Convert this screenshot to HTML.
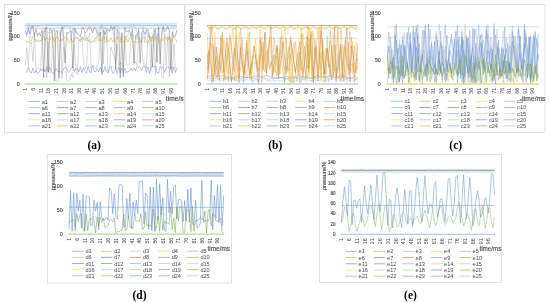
<!DOCTYPE html>
<html><head><meta charset="utf-8"><title>Figure</title>
<style>html,body{margin:0;padding:0;background:#fff;} svg{display:block;} text.t{stroke:#4a4a4a;stroke-width:0.15px;}</style>
</head><body>
<svg width="550" height="302" viewBox="0 0 550 302" font-family="&quot;Liberation Sans&quot;, sans-serif">
<rect width="550" height="302" fill="#fff"/>
<g >
<rect x="4.5" y="4.5" width="180" height="128" fill="#fff" stroke="#D9D9D9" stroke-width="0.8"/>
<line x1="24.5" x2="177.7" y1="84" y2="84" stroke="#8CC168" stroke-width="0.75"/>
<polyline points="25.27,72.25 26.8,71.97 28.33,67.26 29.86,72.11 31.39,72.96 32.93,68.12 34.46,73.01 35.99,70.68 37.52,73.48 39.05,72.42 40.59,69 42.12,70.74 43.65,68.31 45.18,71.96 46.71,66.49 48.25,72.5 49.78,67.04 51.31,71.4 52.84,73.57 54.37,72.7 55.91,68.35 57.44,70.77 58.97,71.77 60.5,71.73 62.03,73.12 63.57,68.41 65.1,67.62 66.63,67.84 68.16,72.46 69.69,71.37 71.23,68.04 72.76,66.75 74.29,71.3 75.82,68.86 77.35,68.5 78.89,71.91 80.42,66.83 81.95,72.51 83.48,67.77 85.01,71.37 86.55,72.99 88.08,66.36 89.61,71.75 91.14,72.5 92.67,66.05 94.21,71.34 95.74,71.55 97.27,68.82 98.8,72.32 100.33,67.22 101.87,71.93 103.4,72.02 104.93,66.42 106.46,71.02 107.99,73.03 109.53,68.47 111.06,66.19 112.59,73.44 114.12,72.39 115.65,68.73 117.19,73.47 118.72,66.91 120.25,73.05 121.78,68.15 123.31,72.74 124.85,68.35 126.38,73.14 127.91,71.41 129.44,71.18 130.97,68.23 132.51,70.74 134.04,67.93 135.57,70.96 137.1,66.34 138.63,67.05 140.17,67.27 141.7,70.66 143.23,66.29 144.76,66.13 146.29,72.48 147.83,66.83 149.36,73.58 150.89,67.39 152.42,66.32 153.95,66.91 155.49,66.27 157.02,72.63 158.55,73.2 160.08,66.65 161.61,67.31 163.15,67.88 164.68,72.4 166.21,67.11 167.74,66.38 169.27,67.87 170.81,67.28 172.34,73.1 173.87,66.77 175.4,72.38 176.93,68.35" fill="none" stroke="#5a78c0" stroke-width="0.55" stroke-opacity="0.8" stroke-linejoin="round"/>
<polyline points="25.27,65.69 26.8,47.58 28.33,66.35 29.86,44.02 31.39,42.21 32.93,61.54 34.46,32.83 35.99,71.92 37.52,67.26 39.05,68.56 40.59,70.63 42.12,36.65 43.65,32.72 45.18,27.65 46.71,77.82 48.25,41.64 49.78,72.31 51.31,72.37 52.84,28.93 54.37,29.47 55.91,80.92 57.44,81.63 58.97,80.84 60.5,30 62.03,78.57 63.57,47.28 65.1,50.24 66.63,80.58 68.16,81.18 69.69,79.43 71.23,74.27 72.76,77.65 74.29,43.81 75.82,70.99 77.35,74.61 78.89,40.05 80.42,39.82 81.95,36.93 83.48,63.79 85.01,68.44 86.55,65.94 88.08,37.62 89.61,33 91.14,68.82 92.67,65.47 94.21,65.88 95.74,69.21 97.27,65.62 98.8,63.17 100.33,27.56 101.87,25.31 103.4,63.82 104.93,27.33 106.46,29.04 107.99,71.7 109.53,68.68 111.06,47.2 112.59,52.11 114.12,55.79 115.65,63.88 117.19,44.49 118.72,65.33 120.25,63.2 121.78,63.28 123.31,67.94 124.85,35.97 126.38,65.21 127.91,64.96 129.44,64.28 130.97,39.25 132.51,34.74 134.04,62.46 135.57,62.19 137.1,65.56 138.63,36.5 140.17,41.82 141.7,41.64 143.23,63.58 144.76,63.69 146.29,68.58 147.83,38.51 149.36,33.74 150.89,70.97 152.42,38.07 153.95,33.55 155.49,74.49 157.02,33.92 158.55,38.09 160.08,43.47 161.61,76.51 163.15,78.52 164.68,33.87 166.21,65.17 167.74,36.34 169.27,77.18 170.81,38 172.34,72.32 173.87,44.24 175.4,67.41 176.93,67.08" fill="none" stroke="#A5A5A5" stroke-width="0.55" stroke-opacity="0.75" stroke-linejoin="round"/>
<polyline points="25.27,24.95 26.8,24.94 28.33,24.77 29.86,24.76 31.39,24.95 32.93,25 34.46,25.07 35.99,25.12 37.52,25.04 39.05,25.12 40.59,24.84 42.12,24.87 43.65,24.85 45.18,24.79 46.71,24.7 48.25,24.63 49.78,24.76 51.31,24.85 52.84,24.88 54.37,25.04 55.91,25 57.44,24.86 58.97,24.66 60.5,24.62 62.03,24.65 63.57,24.68 65.1,24.92 66.63,24.95 68.16,24.96 69.69,24.85 71.23,25 72.76,24.98 74.29,24.92 75.82,24.77 77.35,24.67 78.89,24.7 80.42,24.88 81.95,24.76 83.48,24.64 85.01,24.7 86.55,24.81 88.08,24.82 89.61,24.96 91.14,24.83 92.67,24.65 94.21,24.71 95.74,24.68 97.27,24.61 98.8,24.82 100.33,24.65 101.87,24.68 103.4,24.85 104.93,25 106.46,25.03 107.99,24.92 109.53,24.81 111.06,24.89 112.59,24.7 114.12,24.81 115.65,24.83 117.19,24.97 118.72,24.74 120.25,24.91 121.78,24.73 123.31,24.75 124.85,24.76 126.38,24.77 127.91,24.88 129.44,24.71 130.97,24.57 132.51,24.56 134.04,24.63 135.57,24.85 137.1,24.72 138.63,24.85 140.17,24.69 141.7,24.85 143.23,24.81 144.76,24.7 146.29,24.87 147.83,24.84 149.36,25 150.89,25.11 152.42,25.12 153.95,24.82 155.49,24.66 157.02,24.67 158.55,24.81 160.08,24.75 161.61,24.7 163.15,24.8 164.68,24.78 166.21,24.68 167.74,24.93 169.27,25 170.81,24.95 172.34,25.04 173.87,25 175.4,24.91 176.93,25" fill="none" stroke="#5B9BD5" stroke-width="0.55" stroke-opacity="0.7" stroke-linejoin="round"/>
<polyline points="25.27,30.55 26.8,34.75 28.33,28.35 29.86,33.83 31.39,27.11 32.93,26.27 34.46,35.85 35.99,29.28 37.52,36.25 39.05,32.66 40.59,35.93 42.12,29.74 43.65,77.74 45.18,29.77 46.71,26.6 48.25,71.83 49.78,28.93 51.31,29.73 52.84,36.55 54.37,80.91 55.91,31.22 57.44,31.03 58.97,78.06 60.5,35.07 62.03,26.36 63.57,36.27 65.1,63.19 66.63,32.21 68.16,33.71 69.69,31.62 71.23,30.67 72.76,68.05 74.29,27.98 75.82,32.3 77.35,32.84 78.89,35.5 80.42,37.16 81.95,28.45 83.48,27.8 85.01,32.85 86.55,31.74 88.08,28.42 89.61,27.24 91.14,28.71 92.67,32.84 94.21,27.58 95.74,28.83 97.27,32.84 98.8,36.55 100.33,32.14 101.87,74.74 103.4,30.25 104.93,34.76 106.46,29.95 107.99,30.02 109.53,31.42 111.06,26.25 112.59,29.56 114.12,26.47 115.65,69.71 117.19,29.15 118.72,32.88 120.25,77.85 121.78,33.17 123.31,76.77 124.85,27.3 126.38,31.7 127.91,31.04 129.44,30.26 130.97,36.49 132.51,28.92 134.04,63.6 135.57,35.56 137.1,35.46 138.63,30.56 140.17,63.31 141.7,32.67 143.23,30.71 144.76,34.16 146.29,31.12 147.83,29.39 149.36,37.17 150.89,36.86 152.42,67.01 153.95,33.01 155.49,29.04 157.02,62.47 158.55,26.87 160.08,64.08 161.61,32.57 163.15,26.55 164.68,31.53 166.21,29.32 167.74,26.49 169.27,30.64 170.81,69.53 172.34,32.28 173.87,36.75 175.4,35.95 176.93,29.93" fill="none" stroke="#636363" stroke-width="0.55" stroke-opacity="0.8" stroke-linejoin="round"/>
<polyline points="25.27,28.08 26.8,28.16 28.33,28.04 29.86,27.98 31.39,27.99 32.93,28.15 34.46,28.1 35.99,27.99 37.52,28.07 39.05,28.22 40.59,28.27 42.12,28.27 43.65,28.16 45.18,28.24 46.71,28.3 48.25,28.31 49.78,28.2 51.31,28.1 52.84,28.15 54.37,28.1 55.91,28.01 57.44,28.04 58.97,28.16 60.5,28.21 62.03,28.06 63.57,28.05 65.1,28.15 66.63,28.11 68.16,28.24 69.69,28.07 71.23,28.12 72.76,28.12 74.29,28.12 75.82,28.26 77.35,28.19 78.89,28.23 80.42,28.27 81.95,28.13 83.48,28.26 85.01,28.27 86.55,28.15 88.08,28.22 89.61,28.25 91.14,28.2 92.67,28.27 94.21,28.11 95.74,27.98 97.27,28.18 98.8,28.18 100.33,28.09 101.87,28.15 103.4,28.03 104.93,28.07 106.46,28.19 107.99,28.16 109.53,28.11 111.06,28.17 112.59,28.11 114.12,28.05 115.65,28.08 117.19,28.11 118.72,28.02 120.25,28.02 121.78,28.07 123.31,27.97 124.85,28.13 126.38,28.06 127.91,28.19 129.44,28.14 130.97,28.22 132.51,28.21 134.04,28.11 135.57,28.04 137.1,28 138.63,28.13 140.17,28.14 141.7,28.22 143.23,28.17 144.76,28.16 146.29,28.29 147.83,28.2 149.36,28.12 150.89,28.11 152.42,28.02 153.95,28.16 155.49,28.25 157.02,28.35 158.55,28.27 160.08,28.24 161.61,28.22 163.15,28.26 164.68,28.13 166.21,28.26 167.74,28.1 169.27,28.1 170.81,28.1 172.34,28.04 173.87,28.16 175.4,28.25 176.93,28.26" fill="none" stroke="#255E91" stroke-width="0.55" stroke-opacity="0.6" stroke-linejoin="round"/>
<polyline points="25.27,23.42 26.8,23.47 28.33,23.53 29.86,23.4 31.39,23.35 32.93,23.4 34.46,23.4 35.99,23.4 37.52,23.45 39.05,23.34 40.59,23.34 42.12,23.42 43.65,23.51 45.18,23.48 46.71,23.48 48.25,23.39 49.78,23.36 51.31,23.36 52.84,23.45 54.37,23.5 55.91,23.5 57.44,23.51 58.97,23.4 60.5,23.4 62.03,23.38 63.57,23.3 65.1,23.39 66.63,23.39 68.16,23.47 69.69,23.39 71.23,23.5 72.76,23.4 74.29,23.34 75.82,23.31 77.35,23.43 78.89,23.47 80.42,23.4 81.95,23.48 83.48,23.46 85.01,23.45 86.55,23.35 88.08,23.36 89.61,23.31 91.14,23.39 92.67,23.34 94.21,23.39 95.74,23.32 97.27,23.43 98.8,23.36 100.33,23.44 101.87,23.42 103.4,23.41 104.93,23.48 106.46,23.39 107.99,23.43 109.53,23.46 111.06,23.52 112.59,23.52 114.12,23.48 115.65,23.41 117.19,23.44 118.72,23.39 120.25,23.48 121.78,23.47 123.31,23.46 124.85,23.35 126.38,23.31 127.91,23.32 129.44,23.45 130.97,23.46 132.51,23.4 134.04,23.46 135.57,23.43 137.1,23.43 138.63,23.52 140.17,23.38 141.7,23.34 143.23,23.42 144.76,23.4 146.29,23.44 147.83,23.45 149.36,23.43 150.89,23.46 152.42,23.47 153.95,23.47 155.49,23.42 157.02,23.46 158.55,23.5 160.08,23.42 161.61,23.45 163.15,23.35 164.68,23.36 166.21,23.34 167.74,23.4 169.27,23.34 170.81,23.45 172.34,23.5 173.87,23.54 175.4,23.46 176.93,23.4" fill="none" stroke="#7CAFDD" stroke-width="0.55" stroke-opacity="0.7" stroke-linejoin="round"/>
<polyline points="25.27,25.77 26.8,25.84 28.33,25.8 29.86,25.84 31.39,25.78 32.93,25.91 34.46,25.81 35.99,25.9 37.52,25.72 39.05,25.72 40.59,25.75 42.12,25.79 43.65,25.75 45.18,25.71 46.71,25.66 48.25,25.64 49.78,25.7 51.31,25.59 52.84,25.57 54.37,25.55 55.91,25.67 57.44,25.73 58.97,25.73 60.5,25.64 62.03,25.69 63.57,25.72 65.1,25.76 66.63,25.65 68.16,25.76 69.69,25.89 71.23,25.78 72.76,25.67 74.29,25.65 75.82,25.67 77.35,25.64 78.89,25.75 80.42,25.74 81.95,25.88 83.48,25.94 85.01,25.89 86.55,25.85 88.08,25.85 89.61,25.95 91.14,25.83 92.67,25.8 94.21,25.87 95.74,25.89 97.27,25.87 98.8,25.91 100.33,25.98 101.87,25.78 103.4,25.65 104.93,25.65 106.46,25.6 107.99,25.69 109.53,25.64 111.06,25.78 112.59,25.71 114.12,25.72 115.65,25.63 117.19,25.8 118.72,25.71 120.25,25.85 121.78,25.81 123.31,25.67 124.85,25.86 126.38,25.9 127.91,25.91 129.44,25.91 130.97,25.98 132.51,25.79 134.04,25.7 135.57,25.76 137.1,25.81 138.63,25.77 140.17,25.9 141.7,25.99 143.23,25.79 144.76,25.84 146.29,25.82 147.83,25.68 149.36,25.58 150.89,25.67 152.42,25.8 153.95,25.85 155.49,25.7 157.02,25.62 158.55,25.77 160.08,25.68 161.61,25.76 163.15,25.78 164.68,25.87 166.21,25.73 167.74,25.61 169.27,25.76 170.81,25.73 172.34,25.84 173.87,25.71 175.4,25.86 176.93,25.94" fill="none" stroke="#335AA1" stroke-width="0.55" stroke-opacity="0.7" stroke-linejoin="round"/>
<polyline points="25.27,40.86 26.8,41.28 28.33,41.58 29.86,42.69 31.39,40.8 32.93,36.48 34.46,37.19 35.99,40.89 37.52,41.67 39.05,41.85 40.59,40.67 42.12,36.25 43.65,36.51 45.18,40.33 46.71,37.72 48.25,38.57 49.78,40.36 51.31,37.05 52.84,37.17 54.37,41.44 55.91,37.93 57.44,36.62 58.97,40.49 60.5,41.82 62.03,40.73 63.57,38.16 65.1,37.87 66.63,36.22 68.16,41.62 69.69,42.61 71.23,37.87 72.76,42.49 74.29,38.62 75.82,37.56 77.35,38.05 78.89,38.64 80.42,41.92 81.95,38.04 83.48,37 85.01,40.55 86.55,36.92 88.08,40.48 89.61,41.68 91.14,42.66 92.67,41.33 94.21,40.98 95.74,37.78 97.27,36.47 98.8,41.13 100.33,37.88 101.87,41.2 103.4,37.35 104.93,37.41 106.46,37.35 107.99,42.18 109.53,40.92 111.06,37.48 112.59,41.67 114.12,41.9 115.65,40.34 117.19,36.76 118.72,40.39 120.25,42.55 121.78,37.16 123.31,42.15 124.85,40.82 126.38,36.82 127.91,42.2 129.44,37.95 130.97,37.06 132.51,41.59 134.04,42.05 135.57,41.26 137.1,41.94 138.63,42.31 140.17,42.52 141.7,41.87 143.23,36.96 144.76,37.73 146.29,40.56 147.83,42.8 149.36,38.4 150.89,41.3 152.42,36.27 153.95,40.99 155.49,37.13 157.02,38.37 158.55,41.39 160.08,42.58 161.61,38.56 163.15,40.75 164.68,36.94 166.21,38.25 167.74,40.91 169.27,36.84 170.81,41.62 172.34,41.44 173.87,36.49 175.4,37.94 176.93,42.71" fill="none" stroke="#CC9A00" stroke-width="0.55" stroke-opacity="0.8" stroke-linejoin="round"/>
<polyline points="25.27,29.94 26.8,37.36 28.33,25.48 29.86,41.07 31.39,26.64 32.93,26.13 34.46,39.34 35.99,39.85 37.52,40.66 39.05,40.2 40.59,40.83 42.12,40.39 43.65,30.64 45.18,31.28 46.71,31.64 48.25,32.4 49.78,32.83 51.31,32.41 52.84,30.53 54.37,30.99 55.91,30.22 57.44,30.51 58.97,30.31 60.5,39.43 62.03,40.21 63.57,26.6 65.1,26.44 66.63,26.51 68.16,25.9 69.69,25.4 71.23,40.04 72.76,27.9 74.29,41.64 75.82,28.62 77.35,38.94 78.89,38.62 80.42,39.14 81.95,39.9 83.48,40.15 85.01,32.62 86.55,40.99 88.08,40.24 89.61,40.65 91.14,41.27 92.67,41.51 94.21,41.12 95.74,41.97 97.27,29.36 98.8,34.09 100.33,25.93 101.87,26.72 103.4,27.18 104.93,42.23 106.46,43.06 107.99,29.01 109.53,29.66 111.06,30.09 112.59,29.79 114.12,41.63 115.65,26.44 117.19,26.64 118.72,27.13 120.25,40.07 121.78,32.42 123.31,36.9 124.85,36.35 126.38,36.71 127.91,35.96 129.44,26.65 130.97,25.84 132.51,26.31 134.04,27.04 135.57,27.24 137.1,39.64 138.63,28.36 140.17,42.14 141.7,42.19 143.23,26.87 144.76,42.87 146.29,29.03 147.83,37.43 149.36,37.33 150.89,38.18 152.42,38.42 153.95,29.19 155.49,38.4 157.02,38.45 158.55,30.53 160.08,40.05 161.61,39.93 163.15,26.84 164.68,38.69 166.21,37.88 167.74,37.74 169.27,37.26 170.81,37.05 172.34,37.2 173.87,25.4 175.4,25.61 176.93,26.44" fill="none" stroke="#8FAADC" stroke-width="0.55" stroke-opacity="0.7" stroke-linejoin="round"/>
<text x="19.6" y="83.5" text-anchor="end" dominant-baseline="central" font-size="5.3" fill="#4a4a4a" class="t">0</text>
<text x="19.6" y="59.83" text-anchor="end" dominant-baseline="central" font-size="5.3" fill="#4a4a4a" class="t">50</text>
<text x="19.6" y="36.17" text-anchor="end" dominant-baseline="central" font-size="5.3" fill="#4a4a4a" class="t">100</text>
<text x="19.6" y="12.5" text-anchor="end" dominant-baseline="central" font-size="5.3" fill="#4a4a4a" class="t">150</text>
<text transform="translate(9.95,26.8) rotate(-90)" text-anchor="middle" dominant-baseline="central" font-size="5.7" fill="#4a4a4a" class="t">pressure/N</text>
<text transform="translate(25.27,87.8) rotate(-90)" text-anchor="end" dominant-baseline="central" font-size="5.3" fill="#4a4a4a">1</text>
<text transform="translate(32.93,87.8) rotate(-90)" text-anchor="end" dominant-baseline="central" font-size="5.3" fill="#4a4a4a">6</text>
<text transform="translate(40.59,87.8) rotate(-90)" text-anchor="end" dominant-baseline="central" font-size="5.3" fill="#4a4a4a">11</text>
<text transform="translate(48.25,87.8) rotate(-90)" text-anchor="end" dominant-baseline="central" font-size="5.3" fill="#4a4a4a">16</text>
<text transform="translate(55.91,87.8) rotate(-90)" text-anchor="end" dominant-baseline="central" font-size="5.3" fill="#4a4a4a">21</text>
<text transform="translate(63.57,87.8) rotate(-90)" text-anchor="end" dominant-baseline="central" font-size="5.3" fill="#4a4a4a">26</text>
<text transform="translate(71.23,87.8) rotate(-90)" text-anchor="end" dominant-baseline="central" font-size="5.3" fill="#4a4a4a">31</text>
<text transform="translate(78.89,87.8) rotate(-90)" text-anchor="end" dominant-baseline="central" font-size="5.3" fill="#4a4a4a">36</text>
<text transform="translate(86.55,87.8) rotate(-90)" text-anchor="end" dominant-baseline="central" font-size="5.3" fill="#4a4a4a">41</text>
<text transform="translate(94.21,87.8) rotate(-90)" text-anchor="end" dominant-baseline="central" font-size="5.3" fill="#4a4a4a">46</text>
<text transform="translate(101.87,87.8) rotate(-90)" text-anchor="end" dominant-baseline="central" font-size="5.3" fill="#4a4a4a">51</text>
<text transform="translate(109.53,87.8) rotate(-90)" text-anchor="end" dominant-baseline="central" font-size="5.3" fill="#4a4a4a">56</text>
<text transform="translate(117.19,87.8) rotate(-90)" text-anchor="end" dominant-baseline="central" font-size="5.3" fill="#4a4a4a">61</text>
<text transform="translate(124.85,87.8) rotate(-90)" text-anchor="end" dominant-baseline="central" font-size="5.3" fill="#4a4a4a">66</text>
<text transform="translate(132.51,87.8) rotate(-90)" text-anchor="end" dominant-baseline="central" font-size="5.3" fill="#4a4a4a">71</text>
<text transform="translate(140.17,87.8) rotate(-90)" text-anchor="end" dominant-baseline="central" font-size="5.3" fill="#4a4a4a">76</text>
<text transform="translate(147.83,87.8) rotate(-90)" text-anchor="end" dominant-baseline="central" font-size="5.3" fill="#4a4a4a">81</text>
<text transform="translate(155.49,87.8) rotate(-90)" text-anchor="end" dominant-baseline="central" font-size="5.3" fill="#4a4a4a">86</text>
<text transform="translate(163.15,87.8) rotate(-90)" text-anchor="end" dominant-baseline="central" font-size="5.3" fill="#4a4a4a">91</text>
<text transform="translate(170.81,87.8) rotate(-90)" text-anchor="end" dominant-baseline="central" font-size="5.3" fill="#4a4a4a">96</text>
<text x="165.8" y="98.3" dominant-baseline="central" font-size="6.7" fill="#4a4a4a" class="t">time/s</text>
<line x1="28.5" x2="40" y1="101.5" y2="101.5" stroke="#4472C4" stroke-width="0.8" stroke-opacity="0.6"/>
<text x="41.7" y="101.5" dominant-baseline="central" font-size="5.6" fill="#4a4a4a">a1</text>
<line x1="56.9" x2="68.4" y1="101.5" y2="101.5" stroke="#ED7D31" stroke-width="0.8" stroke-opacity="0.6"/>
<text x="70.1" y="101.5" dominant-baseline="central" font-size="5.6" fill="#4a4a4a">a2</text>
<line x1="85.3" x2="96.8" y1="101.5" y2="101.5" stroke="#A5A5A5" stroke-width="0.8" stroke-opacity="0.6"/>
<text x="98.5" y="101.5" dominant-baseline="central" font-size="5.6" fill="#4a4a4a">a3</text>
<line x1="113.7" x2="125.2" y1="101.5" y2="101.5" stroke="#FFC000" stroke-width="0.8" stroke-opacity="0.6"/>
<text x="126.9" y="101.5" dominant-baseline="central" font-size="5.6" fill="#4a4a4a">a4</text>
<line x1="142.1" x2="153.6" y1="101.5" y2="101.5" stroke="#5B9BD5" stroke-width="0.8" stroke-opacity="0.6"/>
<text x="155.3" y="101.5" dominant-baseline="central" font-size="5.6" fill="#4a4a4a">a5</text>
<line x1="28.5" x2="40" y1="107.6" y2="107.6" stroke="#70AD47" stroke-width="0.8" stroke-opacity="0.6"/>
<text x="41.7" y="107.6" dominant-baseline="central" font-size="5.6" fill="#4a4a4a">a6</text>
<line x1="56.9" x2="68.4" y1="107.6" y2="107.6" stroke="#264478" stroke-width="0.8" stroke-opacity="0.6"/>
<text x="70.1" y="107.6" dominant-baseline="central" font-size="5.6" fill="#4a4a4a">a7</text>
<line x1="85.3" x2="96.8" y1="107.6" y2="107.6" stroke="#9E480E" stroke-width="0.8" stroke-opacity="0.6"/>
<text x="98.5" y="107.6" dominant-baseline="central" font-size="5.6" fill="#4a4a4a">a8</text>
<line x1="113.7" x2="125.2" y1="107.6" y2="107.6" stroke="#636363" stroke-width="0.8" stroke-opacity="0.6"/>
<text x="126.9" y="107.6" dominant-baseline="central" font-size="5.6" fill="#4a4a4a">a9</text>
<line x1="142.1" x2="153.6" y1="107.6" y2="107.6" stroke="#997300" stroke-width="0.8" stroke-opacity="0.6"/>
<text x="155.3" y="107.6" dominant-baseline="central" font-size="5.6" fill="#4a4a4a">a10</text>
<line x1="28.5" x2="40" y1="113.7" y2="113.7" stroke="#255E91" stroke-width="0.8" stroke-opacity="0.6"/>
<text x="41.7" y="113.7" dominant-baseline="central" font-size="5.6" fill="#4a4a4a">a11</text>
<line x1="56.9" x2="68.4" y1="113.7" y2="113.7" stroke="#43682B" stroke-width="0.8" stroke-opacity="0.6"/>
<text x="70.1" y="113.7" dominant-baseline="central" font-size="5.6" fill="#4a4a4a">a12</text>
<line x1="85.3" x2="96.8" y1="113.7" y2="113.7" stroke="#698ED0" stroke-width="0.8" stroke-opacity="0.6"/>
<text x="98.5" y="113.7" dominant-baseline="central" font-size="5.6" fill="#4a4a4a">a13</text>
<line x1="113.7" x2="125.2" y1="113.7" y2="113.7" stroke="#F1975A" stroke-width="0.8" stroke-opacity="0.6"/>
<text x="126.9" y="113.7" dominant-baseline="central" font-size="5.6" fill="#4a4a4a">a14</text>
<line x1="142.1" x2="153.6" y1="113.7" y2="113.7" stroke="#B7B7B7" stroke-width="0.8" stroke-opacity="0.6"/>
<text x="155.3" y="113.7" dominant-baseline="central" font-size="5.6" fill="#4a4a4a">a15</text>
<line x1="28.5" x2="40" y1="119.8" y2="119.8" stroke="#FFCD33" stroke-width="0.8" stroke-opacity="0.6"/>
<text x="41.7" y="119.8" dominant-baseline="central" font-size="5.6" fill="#4a4a4a">a16</text>
<line x1="56.9" x2="68.4" y1="119.8" y2="119.8" stroke="#7CAFDD" stroke-width="0.8" stroke-opacity="0.6"/>
<text x="70.1" y="119.8" dominant-baseline="central" font-size="5.6" fill="#4a4a4a">a17</text>
<line x1="85.3" x2="96.8" y1="119.8" y2="119.8" stroke="#8CC168" stroke-width="0.8" stroke-opacity="0.6"/>
<text x="98.5" y="119.8" dominant-baseline="central" font-size="5.6" fill="#4a4a4a">a18</text>
<line x1="113.7" x2="125.2" y1="119.8" y2="119.8" stroke="#335AA1" stroke-width="0.8" stroke-opacity="0.6"/>
<text x="126.9" y="119.8" dominant-baseline="central" font-size="5.6" fill="#4a4a4a">a19</text>
<line x1="142.1" x2="153.6" y1="119.8" y2="119.8" stroke="#D26012" stroke-width="0.8" stroke-opacity="0.6"/>
<text x="155.3" y="119.8" dominant-baseline="central" font-size="5.6" fill="#4a4a4a">a20</text>
<line x1="28.5" x2="40" y1="125.9" y2="125.9" stroke="#848484" stroke-width="0.8" stroke-opacity="0.6"/>
<text x="41.7" y="125.9" dominant-baseline="central" font-size="5.6" fill="#4a4a4a">a21</text>
<line x1="56.9" x2="68.4" y1="125.9" y2="125.9" stroke="#CC9A00" stroke-width="0.8" stroke-opacity="0.6"/>
<text x="70.1" y="125.9" dominant-baseline="central" font-size="5.6" fill="#4a4a4a">a22</text>
<line x1="85.3" x2="96.8" y1="125.9" y2="125.9" stroke="#3C7DC4" stroke-width="0.8" stroke-opacity="0.6"/>
<text x="98.5" y="125.9" dominant-baseline="central" font-size="5.6" fill="#4a4a4a">a23</text>
<line x1="113.7" x2="125.2" y1="125.9" y2="125.9" stroke="#5A8A39" stroke-width="0.8" stroke-opacity="0.6"/>
<text x="126.9" y="125.9" dominant-baseline="central" font-size="5.6" fill="#4a4a4a">a24</text>
<line x1="142.1" x2="153.6" y1="125.9" y2="125.9" stroke="#8FAADC" stroke-width="0.8" stroke-opacity="0.6"/>
<text x="155.3" y="125.9" dominant-baseline="central" font-size="5.6" fill="#4a4a4a">a25</text>
<text x="94.2" y="145" text-anchor="middle" dominant-baseline="central" font-family="&quot;Liberation Serif&quot;, serif" font-weight="bold" font-size="11.5" fill="#000">(a)</text>
<rect x="185" y="4.5" width="180.5" height="128" fill="#fff" stroke="#D9D9D9" stroke-width="0.8"/>
<line x1="206.4" x2="358.3" y1="84" y2="84" stroke="#8FAADC" stroke-width="0.8"/>
<polyline points="207.16,76.67 208.68,76.3 210.2,75.98 211.72,75.51 213.24,75.61 214.75,75.33 216.27,76.85 217.79,76.93 219.31,76.08 220.83,76.13 222.35,75.68 223.87,76.9 225.39,76.96 226.91,77.41 228.43,77.13 229.94,76.9 231.46,77.82 232.98,77.99 234.5,77.97 236.02,76.75 237.54,76.31 239.06,77.19 240.58,76.51 242.1,77.35 243.62,76.95 245.13,77.64 246.65,78.28 248.17,77.03 249.69,77.53 251.21,77.81 252.73,76.54 254.25,75.98 255.77,76.74 257.29,75.93 258.81,76.25 260.32,76.17 261.84,77.02 263.36,76.14 264.88,76.08 266.4,75.53 267.92,75.33 269.44,76.34 270.96,76.83 272.48,77.49 274,77.92 275.51,78.34 277.03,78.14 278.55,77.45 280.07,78.17 281.59,77.32 283.11,77.46 284.63,77.6 286.15,76.72 287.67,76.83 289.19,77.2 290.7,77.12 292.22,76.64 293.74,77.58 295.26,76.41 296.78,77.51 298.3,76.79 299.82,76.18 301.34,77.38 302.86,76.64 304.38,77 305.89,76.81 307.41,77.78 308.93,78.28 310.45,78.33 311.97,76.9 313.49,77.47 315.01,76.76 316.53,76 318.05,75.52 319.57,76.37 321.08,76.86 322.6,76.83 324.12,76.33 325.64,77.3 327.16,76.67 328.68,76.2 330.2,75.8 331.72,77.12 333.24,76.19 334.76,77.25 336.27,77.41 337.79,77 339.31,76.17 340.83,76.76 342.35,76.01 343.87,76.28 345.39,76.88 346.91,77.24 348.43,77.71 349.95,78.19 351.46,78.34 352.98,77.4 354.5,76.26 356.02,77.16 357.54,77.91" fill="none" stroke="#4472C4" stroke-width="0.55" stroke-opacity="0.7" stroke-linejoin="round"/>
<polyline points="207.16,25.63 208.68,25.62 210.2,25.62 211.72,25.68 213.24,25.66 214.75,25.62 216.27,25.56 217.79,25.47 219.31,25.53 220.83,25.53 222.35,25.49 223.87,25.43 225.39,25.39 226.91,25.36 228.43,25.47 229.94,25.56 231.46,25.47 232.98,25.58 234.5,25.58 236.02,25.52 237.54,25.52 239.06,25.55 240.58,25.47 242.1,25.54 243.62,25.53 245.13,25.47 246.65,25.57 248.17,25.59 249.69,25.57 251.21,25.55 252.73,25.6 254.25,25.59 255.77,25.65 257.29,25.69 258.81,25.66 260.32,25.68 261.84,25.54 263.36,25.58 264.88,25.61 266.4,25.53 267.92,25.49 269.44,25.56 270.96,25.49 272.48,25.49 274,25.53 275.51,25.51 277.03,25.57 278.55,25.61 280.07,25.51 281.59,25.53 283.11,25.46 284.63,25.56 286.15,25.62 287.67,25.67 289.19,25.58 290.7,25.55 292.22,25.64 293.74,25.69 295.26,25.57 296.78,25.56 298.3,25.48 299.82,25.59 301.34,25.56 302.86,25.62 304.38,25.55 305.89,25.53 307.41,25.51 308.93,25.58 310.45,25.48 311.97,25.58 313.49,25.65 315.01,25.57 316.53,25.64 318.05,25.68 319.57,25.63 321.08,25.57 322.6,25.48 324.12,25.47 325.64,25.58 327.16,25.54 328.68,25.47 330.2,25.57 331.72,25.51 333.24,25.57 334.76,25.6 336.27,25.67 337.79,25.57 339.31,25.56 340.83,25.48 342.35,25.51 343.87,25.59 345.39,25.62 346.91,25.64 348.43,25.51 349.95,25.58 351.46,25.64 352.98,25.63 354.5,25.68 356.02,25.64 357.54,25.58" fill="none" stroke="#ED7D31" stroke-width="0.9" stroke-opacity="0.95" stroke-linejoin="round"/>
<polyline points="207.16,62.96 208.68,52.89 210.2,42.83 211.72,60.99 213.24,79.15 214.75,32.46 216.27,54.88 217.79,77.3 219.31,62.73 220.83,48.17 222.35,33.6 223.87,82.09 225.39,62.8 226.91,43.52 228.43,74.1 229.94,59.01 231.46,43.93 232.98,28.84 234.5,55.04 236.02,81.24 237.54,56.31 239.06,31.37 240.58,46.05 242.1,60.73 243.62,75.41 245.13,61.27 246.65,47.13 248.17,32.99 249.69,53.81 251.21,74.63 252.73,62.54 254.25,50.45 255.77,38.36 257.29,71.7 258.81,50.15 260.32,28.59 261.84,72.02 263.36,42.34 264.88,58.16 266.4,73.97 267.92,61.28 269.44,48.59 270.96,35.91 272.48,54.32 274,72.73 275.51,59.39 277.03,46.06 278.55,60.01 280.07,73.96 281.59,58.27 283.11,42.57 284.63,26.88 286.15,45.18 287.67,63.48 289.19,81.78 290.7,36.85 292.22,83.01 293.74,43.18 295.26,52.98 296.78,62.77 298.3,72.57 299.82,50.08 301.34,27.59 302.86,73.57 304.38,57.81 305.89,42.05 307.41,26.29 308.93,76.97 310.45,29.9 311.97,75.13 313.49,32.9 315.01,45.15 316.53,57.4 318.05,69.65 319.57,28.15 321.08,81.36 322.6,39.79 324.12,83.03 325.64,48.35 327.16,57.05 328.68,65.76 330.2,74.47 331.72,47.69 333.24,75.76 334.76,61.24 336.27,46.72 337.79,32.2 339.31,57.13 340.83,82.06 342.35,70.45 343.87,58.85 345.39,47.24 346.91,61.29 348.43,75.33 349.95,63.95 351.46,52.57 352.98,41.19 354.5,78.6 356.02,62.38 357.54,46.16" fill="none" stroke="#FFC000" stroke-width="0.55" stroke-opacity="0.7" stroke-linejoin="round"/>
<polyline points="207.16,77.87 208.68,78.09 210.2,78.41 211.72,78.84 213.24,78.6 214.75,78.12 216.27,78.36 217.79,78.55 219.31,79.18 220.83,78.34 222.35,79.09 223.87,78.89 225.39,78.27 226.91,78.91 228.43,78.44 229.94,77.85 231.46,77.95 232.98,77.78 234.5,78.65 236.02,78.71 237.54,79.14 239.06,78.42 240.58,78.77 242.1,78.75 243.62,77.96 245.13,77.7 246.65,77.37 248.17,77.91 249.69,78.18 251.21,78.01 252.73,78.26 254.25,78.67 255.77,78.76 257.29,79.18 258.81,79.11 260.32,78.19 261.84,77.69 263.36,77.85 264.88,78.14 266.4,78.53 267.92,79.13 269.44,79.22 270.96,78.56 272.48,78.03 274,78.44 275.51,78.08 277.03,77.88 278.55,77.87 280.07,77.91 281.59,77.8 283.11,78.3 284.63,78.11 286.15,78.6 287.67,78.6 289.19,78.2 290.7,78.07 292.22,78.56 293.74,77.93 295.26,77.97 296.78,78.09 298.3,78.97 299.82,78.74 301.34,79.02 302.86,78.59 304.38,78.63 305.89,78.15 307.41,78.1 308.93,77.86 310.45,78.36 311.97,78.23 313.49,78.02 315.01,77.77 316.53,78.3 318.05,77.91 319.57,77.65 321.08,77.74 322.6,77.39 324.12,77.21 325.64,77.72 327.16,78.01 328.68,78.71 330.2,78.17 331.72,77.7 333.24,78.08 334.76,78 336.27,77.91 337.79,77.84 339.31,78.59 340.83,78.18 342.35,78.22 343.87,78.12 345.39,78.41 346.91,78.29 348.43,78.01 349.95,78.03 351.46,77.93 352.98,78.85 354.5,79.22 356.02,79.04 357.54,78.63" fill="none" stroke="#5B9BD5" stroke-width="0.55" stroke-opacity="0.7" stroke-linejoin="round"/>
<polyline points="207.16,26.49 208.68,27.6 210.2,28.29 211.72,28.29 213.24,27.6 214.75,26.49 216.27,27.6 217.79,28.29 219.31,28.29 220.83,27.6 222.35,26.49 223.87,27.6 225.39,28.29 226.91,28.29 228.43,27.6 229.94,26.49 231.46,27.6 232.98,28.29 234.5,28.29 236.02,27.6 237.54,26.49 239.06,27.6 240.58,28.29 242.1,28.29 243.62,27.6 245.13,26.49 246.65,27.6 248.17,28.29 249.69,28.29 251.21,27.6 252.73,26.49 254.25,27.6 255.77,28.29 257.29,28.29 258.81,27.6 260.32,26.49 261.84,27.6 263.36,28.29 264.88,28.29 266.4,27.6 267.92,26.49 269.44,27.6 270.96,28.29 272.48,28.29 274,27.6 275.51,26.49 277.03,27.6 278.55,28.29 280.07,28.29 281.59,27.6 283.11,26.49 284.63,27.6 286.15,28.29 287.67,28.29 289.19,27.6 290.7,26.49 292.22,27.6 293.74,28.29 295.26,28.29 296.78,27.6 298.3,26.49 299.82,27.6 301.34,28.29 302.86,28.29 304.38,27.6 305.89,26.49 307.41,27.6 308.93,28.29 310.45,28.29 311.97,27.6 313.49,26.49 315.01,27.6 316.53,28.29 318.05,28.29 319.57,27.6 321.08,26.49 322.6,27.6 324.12,28.29 325.64,28.29 327.16,27.6 328.68,26.49 330.2,27.6 331.72,28.29 333.24,28.29 334.76,27.6 336.27,26.49 337.79,27.6 339.31,28.29 340.83,28.29 342.35,27.6 343.87,26.49 345.39,27.6 346.91,28.29 348.43,28.29 349.95,27.6 351.46,26.49 352.98,27.6 354.5,28.29 356.02,28.29 357.54,27.6" fill="none" stroke="#70AD47" stroke-width="0.6" stroke-opacity="0.9" stroke-linejoin="round"/>
<polyline points="207.16,32.99 208.68,68.91 210.2,56.28 211.72,43.66 213.24,54.95 214.75,66.24 216.27,77.53 217.79,66.56 219.31,55.6 220.83,72.85 222.35,56.07 223.87,39.28 225.39,53.37 226.91,67.46 228.43,81.56 229.94,36.98 231.46,48.52 232.98,60.06 234.5,71.59 236.02,43.46 237.54,56.81 239.06,70.16 240.58,54.9 242.1,39.64 243.62,82.88 245.13,67.29 246.65,51.7 248.17,62.09 249.69,72.48 251.21,66.53 252.73,60.58 254.25,54.63 255.77,60.08 257.29,65.53 258.81,70.99 260.32,54.81 261.84,83.14 263.36,57.63 264.88,32.13 266.4,44.54 267.92,56.94 269.44,69.35 270.96,64.61 272.48,59.87 274,55.13 275.51,65.91 277.03,76.69 278.55,63.29 280.07,49.89 281.59,61.19 283.11,72.49 284.63,83.79 286.15,38.01 287.67,71.61 289.19,63.74 290.7,55.86 292.22,47.98 293.74,59.02 295.26,70.05 296.78,81.08 298.3,66.3 299.82,51.51 301.34,70.46 302.86,58.29 304.38,46.13 305.89,57.27 307.41,68.41 308.93,38.67 310.45,51.27 311.97,63.87 313.49,76.48 315.01,60.66 316.53,44.83 318.05,29.01 319.57,52.47 321.08,75.93 322.6,38.67 324.12,60.26 325.64,81.84 327.16,36.13 328.68,67.33 330.2,29.79 331.72,52.79 333.24,75.79 334.76,44.45 336.27,80.57 337.79,69.38 339.31,58.18 340.83,46.99 342.35,77.92 343.87,45.19 345.39,53.5 346.91,61.81 348.43,70.13 349.95,31.74 351.46,52.6 352.98,73.47 354.5,45.68 356.02,57.76 357.54,69.83" fill="none" stroke="#997300" stroke-width="0.55" stroke-opacity="0.45" stroke-linejoin="round"/>
<polyline points="207.16,52.82 208.68,73.37 210.2,25.31 211.72,83.2 213.24,45.88 214.75,56.2 216.27,66.53 217.79,76.86 219.31,62.26 220.83,47.66 222.35,58.04 223.87,68.42 225.39,78.81 226.91,63.88 228.43,48.95 229.94,34.02 231.46,49.67 232.98,65.33 234.5,80.98 236.02,27.12 237.54,52.97 239.06,78.82 240.58,28.24 242.1,43.43 243.62,58.62 245.13,73.81 246.65,39.65 248.17,57.76 249.69,75.87 251.21,66 252.73,56.13 254.25,46.26 255.77,56.31 257.29,66.36 258.81,76.42 260.32,58.99 261.84,41.56 263.36,56.73 264.88,71.89 266.4,60.87 267.92,49.84 269.44,38.81 270.96,56.66 272.48,74.5 274,37.44 275.51,50.02 277.03,62.6 278.55,75.19 280.07,37.21 281.59,48.03 283.11,58.86 284.63,69.68 286.15,61.9 287.67,54.13 289.19,46.35 290.7,83.99 292.22,69.59 293.74,55.18 295.26,40.78 296.78,58.4 298.3,76.02 299.82,61.88 301.34,47.74 302.86,33.6 304.38,56.02 305.89,78.44 307.41,51.91 308.93,25.39 310.45,43.49 311.97,61.59 313.49,79.69 315.01,39.51 316.53,57.35 318.05,75.19 319.57,53.07 321.08,30.96 322.6,53.81 324.12,76.66 325.64,62.35 327.16,48.03 328.68,62.38 330.2,76.73 331.72,45.11 333.24,57.47 334.76,69.83 336.27,82.2 337.79,25.76 339.31,79.66 340.83,28.93 342.35,44.92 343.87,60.91 345.39,76.9 346.91,59.46 348.43,42.02 349.95,72.43 351.46,36.9 352.98,55.11 354.5,73.33 356.02,62.74 357.54,52.15" fill="none" stroke="#F1975A" stroke-width="0.55" stroke-opacity="0.75" stroke-linejoin="round"/>
<polyline points="207.16,73.82 208.68,49.93 210.2,60.72 211.72,71.52 213.24,82.31 214.75,43.07 216.27,70.72 217.79,51.87 219.31,59.26 220.83,66.64 222.35,74.03 223.87,61.88 225.39,49.72 226.91,58.18 228.43,66.63 229.94,75.09 231.46,66.46 232.98,57.82 234.5,49.19 236.02,55.77 237.54,62.34 239.06,68.91 240.58,44.02 242.1,59.63 243.62,75.24 245.13,66.95 246.65,58.66 248.17,50.38 249.69,61.48 251.21,72.57 252.73,83.67 254.25,69.57 255.77,55.47 257.29,82.73 258.81,67.47 260.32,52.21 261.84,36.96 263.36,49.48 264.88,62 266.4,74.52 267.92,48.73 269.44,59 270.96,69.26 272.48,79.52 274,54.57 275.51,60.28 277.03,65.99 278.55,71.7 280.07,51.25 281.59,30.81 283.11,43.66 284.63,56.5 286.15,69.35 287.67,58.25 289.19,47.16 290.7,36.06 292.22,48.74 293.74,61.43 295.26,74.11 296.78,67.88 298.3,61.64 299.82,55.41 301.34,82.5 302.86,73.14 304.38,63.78 305.89,54.42 307.41,77.08 308.93,58.69 310.45,40.31 311.97,53.9 313.49,67.5 315.01,81.09 316.53,44.97 318.05,53.03 319.57,61.08 321.08,69.14 322.6,60.43 324.12,51.73 325.64,61.89 327.16,72.06 328.68,82.22 330.2,65.88 331.72,49.53 333.24,33.18 334.76,52.75 336.27,72.32 337.79,54.09 339.31,67.31 340.83,80.53 342.35,65.75 343.87,50.96 345.39,36.18 346.91,82.73 348.43,71.22 349.95,59.72 351.46,71.48 352.98,61.26 354.5,51.03 356.02,40.81 357.54,52.12" fill="none" stroke="#B7B7B7" stroke-width="0.55" stroke-opacity="0.6" stroke-linejoin="round"/>
<polyline points="207.16,28.79 208.68,28.84 210.2,28.87 211.72,28.86 213.24,28.74 214.75,28.84 216.27,28.91 217.79,28.86 219.31,28.73 220.83,28.87 222.35,29 223.87,29.05 225.39,28.95 226.91,28.89 228.43,28.96 229.94,29.01 231.46,28.92 232.98,28.85 234.5,28.8 236.02,28.76 237.54,28.92 239.06,28.9 240.58,28.79 242.1,28.69 243.62,28.81 245.13,28.73 246.65,28.74 248.17,28.66 249.69,28.82 251.21,28.78 252.73,28.71 254.25,28.78 255.77,28.92 257.29,28.98 258.81,29.03 260.32,29.08 261.84,29.09 263.36,28.96 264.88,29.03 266.4,28.89 267.92,28.81 269.44,28.74 270.96,28.7 272.48,28.7 274,28.64 275.51,28.6 277.03,28.67 278.55,28.61 280.07,28.82 281.59,28.95 283.11,29.04 284.63,29.05 286.15,29.01 287.67,28.96 289.19,28.87 290.7,28.79 292.22,28.94 293.74,28.93 295.26,28.89 296.78,28.91 298.3,29 299.82,28.91 301.34,28.93 302.86,28.85 304.38,28.85 305.89,28.72 307.41,28.65 308.93,28.85 310.45,28.78 311.97,28.75 313.49,28.85 315.01,28.96 316.53,28.93 318.05,28.94 319.57,28.84 321.08,28.73 322.6,28.81 324.12,28.89 325.64,28.88 327.16,28.81 328.68,28.75 330.2,28.77 331.72,28.86 333.24,28.91 334.76,28.79 336.27,28.81 337.79,28.96 339.31,28.94 340.83,28.98 342.35,28.88 343.87,28.99 345.39,29 346.91,29.06 348.43,28.98 349.95,28.8 351.46,28.81 352.98,28.86 354.5,28.74 356.02,28.9 357.54,28.92" fill="none" stroke="#FFCD33" stroke-width="0.55" stroke-opacity="0.7" stroke-linejoin="round"/>
<polyline points="207.16,80 208.68,80.55 210.2,80.93 211.72,80.65 213.24,80.21 214.75,80.29 216.27,80.15 217.79,79.59 219.31,80.34 220.83,80.62 222.35,80.47 223.87,80.31 225.39,79.71 226.91,79.83 228.43,79.75 229.94,80.05 231.46,79.71 232.98,79.44 234.5,80.04 236.02,80.67 237.54,80.83 239.06,80.78 240.58,80 242.1,80.42 243.62,80.15 245.13,79.98 246.65,79.42 248.17,80.28 249.69,79.87 251.21,80.24 252.73,80.79 254.25,80.37 255.77,79.82 257.29,79.86 258.81,80.64 260.32,79.8 261.84,80.13 263.36,79.97 264.88,79.75 266.4,80.27 267.92,80.38 269.44,80.56 270.96,80.99 272.48,81.3 274,80.56 275.51,80.55 277.03,79.89 278.55,80.64 280.07,80.75 281.59,80.99 283.11,80.05 284.63,79.7 286.15,79.34 287.67,79.68 289.19,80.46 290.7,80.48 292.22,80.76 293.74,81.21 295.26,80.72 296.78,80.82 298.3,81.13 299.82,80.75 301.34,79.92 302.86,79.4 304.38,79.78 305.89,80.51 307.41,80.01 308.93,80.64 310.45,80.42 311.97,80.93 313.49,79.95 315.01,79.99 316.53,80.17 318.05,80.51 319.57,80.32 321.08,79.61 322.6,79.95 324.12,80.47 325.64,80.35 327.16,79.7 328.68,80.07 330.2,79.94 331.72,79.45 333.24,80.01 334.76,79.65 336.27,79.83 337.79,80.5 339.31,81.02 340.83,80.07 342.35,80.18 343.87,80.27 345.39,79.66 346.91,79.77 348.43,79.95 349.95,80.36 351.46,79.96 352.98,80.4 354.5,80.37 356.02,79.94 357.54,79.9" fill="none" stroke="#7CAFDD" stroke-width="0.55" stroke-opacity="0.7" stroke-linejoin="round"/>
<polyline points="207.16,38.26 208.68,38.38 210.2,38.31 211.72,38.34 213.24,38.43 214.75,38.43 216.27,38.4 217.79,38.39 219.31,38.36 220.83,38.43 222.35,38.44 223.87,38.3 225.39,38.32 226.91,38.33 228.43,38.4 229.94,38.41 231.46,38.29 232.98,38.27 234.5,38.29 236.02,38.39 237.54,38.38 239.06,38.31 240.58,38.33 242.1,38.31 243.62,38.24 245.13,38.24 246.65,38.25 248.17,38.37 249.69,38.44 251.21,38.34 252.73,38.35 254.25,38.27 255.77,38.23 257.29,38.19 258.81,38.27 260.32,38.19 261.84,38.2 263.36,38.17 264.88,38.3 266.4,38.26 267.92,38.3 269.44,38.22 270.96,38.17 272.48,38.28 274,38.31 275.51,38.36 277.03,38.35 278.55,38.38 280.07,38.33 281.59,38.4 283.11,38.43 284.63,38.4 286.15,38.45 287.67,38.42 289.19,38.31 290.7,38.24 292.22,38.33 293.74,38.42 295.26,38.32 296.78,38.23 298.3,38.25 299.82,38.35 301.34,38.39 302.86,38.28 304.38,38.22 305.89,38.35 307.41,38.4 308.93,38.38 310.45,38.4 311.97,38.32 313.49,38.35 315.01,38.29 316.53,38.37 318.05,38.35 319.57,38.25 321.08,38.24 322.6,38.35 324.12,38.41 325.64,38.35 327.16,38.36 328.68,38.37 330.2,38.36 331.72,38.33 333.24,38.24 334.76,38.32 336.27,38.31 337.79,38.36 339.31,38.34 340.83,38.29 342.35,38.37 343.87,38.36 345.39,38.3 346.91,38.4 348.43,38.32 349.95,38.34 351.46,38.33 352.98,38.31 354.5,38.26 356.02,38.37 357.54,38.35" fill="none" stroke="#8CC168" stroke-width="0.55" stroke-opacity="0.7" stroke-linejoin="round"/>
<polyline points="207.16,79.71 208.68,61.87 210.2,44.04 211.72,26.21 213.24,50.51 214.75,74.82 216.27,47 217.79,63.62 219.31,80.24 220.83,36.26 222.35,54.16 223.87,72.05 225.39,54.91 226.91,37.77 228.43,52.3 229.94,66.82 231.46,81.35 232.98,64.7 234.5,48.06 236.02,59.62 237.54,71.18 239.06,82.74 240.58,47.65 242.1,62.08 243.62,76.51 245.13,59.68 246.65,42.85 248.17,59.87 249.69,76.89 251.21,66.58 252.73,56.27 254.25,45.95 255.77,58.49 257.29,71.03 258.81,83.56 260.32,39.4 261.84,54.71 263.36,70.03 264.88,32.38 266.4,72.91 267.92,57.1 269.44,41.29 270.96,25.48 272.48,76.73 274,66.22 275.51,55.71 277.03,45.19 278.55,78.44 280.07,66.17 281.59,53.91 283.11,41.64 284.63,57.6 286.15,73.57 287.67,62.23 289.19,50.89 290.7,39.55 292.22,50.27 293.74,60.99 295.26,71.71 296.78,61.64 298.3,51.57 299.82,41.5 301.34,59.54 302.86,77.59 304.38,63.81 305.89,50.03 307.41,36.25 308.93,69.31 310.45,50.15 311.97,30.98 313.49,83.06 315.01,47.72 316.53,64.41 318.05,81.11 319.57,54.28 321.08,27.45 322.6,50.84 324.12,74.22 325.64,61.35 327.16,48.49 328.68,58.84 330.2,69.2 331.72,79.55 333.24,53.12 334.76,26.69 336.27,77.11 337.79,66.06 339.31,55.01 340.83,43.97 342.35,62.81 343.87,81.65 345.39,54.79 346.91,27.93 348.43,54.84 349.95,81.75 351.46,45.89 352.98,54.89 354.5,63.9 356.02,72.9 357.54,57.92" fill="none" stroke="#D26012" stroke-width="0.55" stroke-opacity="0.65" stroke-linejoin="round"/>
<polyline points="207.16,69.97 208.68,51.19 210.2,61.31 211.72,71.43 213.24,81.54 214.75,69.05 216.27,56.56 217.79,61.02 219.31,65.49 220.83,69.95 222.35,32.17 223.87,79.81 225.39,69.02 226.91,58.23 228.43,47.43 229.94,64.9 231.46,82.37 232.98,66.63 234.5,50.89 236.02,35.15 237.54,55.78 239.06,76.41 240.58,69.04 242.1,61.66 243.62,67.14 245.13,72.62 246.65,78.1 248.17,55.13 249.69,32.17 251.21,80.6 252.73,61.98 254.25,62.79 255.77,63.6 257.29,64.41 258.81,58.34 260.32,52.27 261.84,46.2 263.36,63.69 264.88,57.61 266.4,51.54 267.92,59.66 269.44,67.77 270.96,62.19 272.48,65.65 274,69.12 275.51,72.58 277.03,47.78 278.55,69.08 280.07,52.35 281.59,35.62 283.11,58.85 284.63,82.09 286.15,66.42 287.67,68.5 289.19,70.58 290.7,53.9 292.22,68.45 293.74,83 295.26,72.71 296.78,62.42 298.3,52.13 299.82,82.93 301.34,33.75 302.86,49.26 304.38,64.76 305.89,80.26 307.41,45.03 308.93,72.93 310.45,34.6 311.97,82.19 313.49,70.32 315.01,58.45 316.53,46.57 318.05,79.53 319.57,65.92 321.08,52.3 322.6,59.49 324.12,66.68 325.64,73.87 327.16,62.71 328.68,51.55 330.2,40.38 331.72,50.58 333.24,60.78 334.76,70.98 336.27,69.46 337.79,67.93 339.31,69.66 340.83,48.17 342.35,77.51 343.87,58.73 345.39,39.96 346.91,53.44 348.43,66.93 349.95,65.8 351.46,64.67 352.98,63.54 354.5,82.29 356.02,62.63 357.54,42.97" fill="none" stroke="#CC9A00" stroke-width="0.55" stroke-opacity="0.6" stroke-linejoin="round"/>
<text x="200.6" y="83.5" text-anchor="end" dominant-baseline="central" font-size="5.3" fill="#4a4a4a" class="t">0</text>
<text x="200.6" y="59.83" text-anchor="end" dominant-baseline="central" font-size="5.3" fill="#4a4a4a" class="t">50</text>
<text x="200.6" y="36.17" text-anchor="end" dominant-baseline="central" font-size="5.3" fill="#4a4a4a" class="t">100</text>
<text x="200.6" y="12.5" text-anchor="end" dominant-baseline="central" font-size="5.3" fill="#4a4a4a" class="t">150</text>
<text transform="translate(190.95,26.8) rotate(-90)" text-anchor="middle" dominant-baseline="central" font-size="5.7" fill="#4a4a4a" class="t">pressure/N</text>
<text transform="translate(207.16,87.8) rotate(-90)" text-anchor="end" dominant-baseline="central" font-size="5.3" fill="#4a4a4a">1</text>
<text transform="translate(214.75,87.8) rotate(-90)" text-anchor="end" dominant-baseline="central" font-size="5.3" fill="#4a4a4a">6</text>
<text transform="translate(222.35,87.8) rotate(-90)" text-anchor="end" dominant-baseline="central" font-size="5.3" fill="#4a4a4a">11</text>
<text transform="translate(229.94,87.8) rotate(-90)" text-anchor="end" dominant-baseline="central" font-size="5.3" fill="#4a4a4a">16</text>
<text transform="translate(237.54,87.8) rotate(-90)" text-anchor="end" dominant-baseline="central" font-size="5.3" fill="#4a4a4a">21</text>
<text transform="translate(245.13,87.8) rotate(-90)" text-anchor="end" dominant-baseline="central" font-size="5.3" fill="#4a4a4a">26</text>
<text transform="translate(252.73,87.8) rotate(-90)" text-anchor="end" dominant-baseline="central" font-size="5.3" fill="#4a4a4a">31</text>
<text transform="translate(260.32,87.8) rotate(-90)" text-anchor="end" dominant-baseline="central" font-size="5.3" fill="#4a4a4a">36</text>
<text transform="translate(267.92,87.8) rotate(-90)" text-anchor="end" dominant-baseline="central" font-size="5.3" fill="#4a4a4a">41</text>
<text transform="translate(275.51,87.8) rotate(-90)" text-anchor="end" dominant-baseline="central" font-size="5.3" fill="#4a4a4a">46</text>
<text transform="translate(283.11,87.8) rotate(-90)" text-anchor="end" dominant-baseline="central" font-size="5.3" fill="#4a4a4a">51</text>
<text transform="translate(290.7,87.8) rotate(-90)" text-anchor="end" dominant-baseline="central" font-size="5.3" fill="#4a4a4a">56</text>
<text transform="translate(298.3,87.8) rotate(-90)" text-anchor="end" dominant-baseline="central" font-size="5.3" fill="#4a4a4a">61</text>
<text transform="translate(305.89,87.8) rotate(-90)" text-anchor="end" dominant-baseline="central" font-size="5.3" fill="#4a4a4a">66</text>
<text transform="translate(313.49,87.8) rotate(-90)" text-anchor="end" dominant-baseline="central" font-size="5.3" fill="#4a4a4a">71</text>
<text transform="translate(321.08,87.8) rotate(-90)" text-anchor="end" dominant-baseline="central" font-size="5.3" fill="#4a4a4a">76</text>
<text transform="translate(328.68,87.8) rotate(-90)" text-anchor="end" dominant-baseline="central" font-size="5.3" fill="#4a4a4a">81</text>
<text transform="translate(336.27,87.8) rotate(-90)" text-anchor="end" dominant-baseline="central" font-size="5.3" fill="#4a4a4a">86</text>
<text transform="translate(343.87,87.8) rotate(-90)" text-anchor="end" dominant-baseline="central" font-size="5.3" fill="#4a4a4a">91</text>
<text transform="translate(351.46,87.8) rotate(-90)" text-anchor="end" dominant-baseline="central" font-size="5.3" fill="#4a4a4a">96</text>
<text x="340.8" y="98" dominant-baseline="central" font-size="6.7" fill="#4a4a4a" class="t">time/ms</text>
<line x1="209.8" x2="221.3" y1="101.3" y2="101.3" stroke="#4472C4" stroke-width="0.8" stroke-opacity="0.6"/>
<text x="223" y="101.3" dominant-baseline="central" font-size="5.6" fill="#4a4a4a">b1</text>
<line x1="238.27" x2="249.77" y1="101.3" y2="101.3" stroke="#ED7D31" stroke-width="0.8" stroke-opacity="0.6"/>
<text x="251.47" y="101.3" dominant-baseline="central" font-size="5.6" fill="#4a4a4a">b2</text>
<line x1="266.74" x2="278.24" y1="101.3" y2="101.3" stroke="#A5A5A5" stroke-width="0.8" stroke-opacity="0.6"/>
<text x="279.94" y="101.3" dominant-baseline="central" font-size="5.6" fill="#4a4a4a">b3</text>
<line x1="295.21" x2="306.71" y1="101.3" y2="101.3" stroke="#FFC000" stroke-width="0.8" stroke-opacity="0.6"/>
<text x="308.41" y="101.3" dominant-baseline="central" font-size="5.6" fill="#4a4a4a">b4</text>
<line x1="323.68" x2="335.18" y1="101.3" y2="101.3" stroke="#5B9BD5" stroke-width="0.8" stroke-opacity="0.6"/>
<text x="336.88" y="101.3" dominant-baseline="central" font-size="5.6" fill="#4a4a4a">b5</text>
<line x1="209.8" x2="221.3" y1="107.45" y2="107.45" stroke="#70AD47" stroke-width="0.8" stroke-opacity="0.6"/>
<text x="223" y="107.45" dominant-baseline="central" font-size="5.6" fill="#4a4a4a">b6</text>
<line x1="238.27" x2="249.77" y1="107.45" y2="107.45" stroke="#264478" stroke-width="0.8" stroke-opacity="0.6"/>
<text x="251.47" y="107.45" dominant-baseline="central" font-size="5.6" fill="#4a4a4a">b7</text>
<line x1="266.74" x2="278.24" y1="107.45" y2="107.45" stroke="#9E480E" stroke-width="0.8" stroke-opacity="0.6"/>
<text x="279.94" y="107.45" dominant-baseline="central" font-size="5.6" fill="#4a4a4a">b8</text>
<line x1="295.21" x2="306.71" y1="107.45" y2="107.45" stroke="#636363" stroke-width="0.8" stroke-opacity="0.6"/>
<text x="308.41" y="107.45" dominant-baseline="central" font-size="5.6" fill="#4a4a4a">b9</text>
<line x1="323.68" x2="335.18" y1="107.45" y2="107.45" stroke="#997300" stroke-width="0.8" stroke-opacity="0.6"/>
<text x="336.88" y="107.45" dominant-baseline="central" font-size="5.6" fill="#4a4a4a">b10</text>
<line x1="209.8" x2="221.3" y1="113.6" y2="113.6" stroke="#255E91" stroke-width="0.8" stroke-opacity="0.6"/>
<text x="223" y="113.6" dominant-baseline="central" font-size="5.6" fill="#4a4a4a">b11</text>
<line x1="238.27" x2="249.77" y1="113.6" y2="113.6" stroke="#43682B" stroke-width="0.8" stroke-opacity="0.6"/>
<text x="251.47" y="113.6" dominant-baseline="central" font-size="5.6" fill="#4a4a4a">b12</text>
<line x1="266.74" x2="278.24" y1="113.6" y2="113.6" stroke="#698ED0" stroke-width="0.8" stroke-opacity="0.6"/>
<text x="279.94" y="113.6" dominant-baseline="central" font-size="5.6" fill="#4a4a4a">b13</text>
<line x1="295.21" x2="306.71" y1="113.6" y2="113.6" stroke="#F1975A" stroke-width="0.8" stroke-opacity="0.6"/>
<text x="308.41" y="113.6" dominant-baseline="central" font-size="5.6" fill="#4a4a4a">b14</text>
<line x1="323.68" x2="335.18" y1="113.6" y2="113.6" stroke="#B7B7B7" stroke-width="0.8" stroke-opacity="0.6"/>
<text x="336.88" y="113.6" dominant-baseline="central" font-size="5.6" fill="#4a4a4a">b15</text>
<line x1="209.8" x2="221.3" y1="119.75" y2="119.75" stroke="#FFCD33" stroke-width="0.8" stroke-opacity="0.6"/>
<text x="223" y="119.75" dominant-baseline="central" font-size="5.6" fill="#4a4a4a">b16</text>
<line x1="238.27" x2="249.77" y1="119.75" y2="119.75" stroke="#7CAFDD" stroke-width="0.8" stroke-opacity="0.6"/>
<text x="251.47" y="119.75" dominant-baseline="central" font-size="5.6" fill="#4a4a4a">b17</text>
<line x1="266.74" x2="278.24" y1="119.75" y2="119.75" stroke="#8CC168" stroke-width="0.8" stroke-opacity="0.6"/>
<text x="279.94" y="119.75" dominant-baseline="central" font-size="5.6" fill="#4a4a4a">b18</text>
<line x1="295.21" x2="306.71" y1="119.75" y2="119.75" stroke="#335AA1" stroke-width="0.8" stroke-opacity="0.6"/>
<text x="308.41" y="119.75" dominant-baseline="central" font-size="5.6" fill="#4a4a4a">b19</text>
<line x1="323.68" x2="335.18" y1="119.75" y2="119.75" stroke="#D26012" stroke-width="0.8" stroke-opacity="0.6"/>
<text x="336.88" y="119.75" dominant-baseline="central" font-size="5.6" fill="#4a4a4a">b20</text>
<line x1="209.8" x2="221.3" y1="125.9" y2="125.9" stroke="#848484" stroke-width="0.8" stroke-opacity="0.6"/>
<text x="223" y="125.9" dominant-baseline="central" font-size="5.6" fill="#4a4a4a">b21</text>
<line x1="238.27" x2="249.77" y1="125.9" y2="125.9" stroke="#CC9A00" stroke-width="0.8" stroke-opacity="0.6"/>
<text x="251.47" y="125.9" dominant-baseline="central" font-size="5.6" fill="#4a4a4a">b22</text>
<line x1="266.74" x2="278.24" y1="125.9" y2="125.9" stroke="#3C7DC4" stroke-width="0.8" stroke-opacity="0.6"/>
<text x="279.94" y="125.9" dominant-baseline="central" font-size="5.6" fill="#4a4a4a">b23</text>
<line x1="295.21" x2="306.71" y1="125.9" y2="125.9" stroke="#5A8A39" stroke-width="0.8" stroke-opacity="0.6"/>
<text x="308.41" y="125.9" dominant-baseline="central" font-size="5.6" fill="#4a4a4a">b24</text>
<line x1="323.68" x2="335.18" y1="125.9" y2="125.9" stroke="#8FAADC" stroke-width="0.8" stroke-opacity="0.6"/>
<text x="336.88" y="125.9" dominant-baseline="central" font-size="5.6" fill="#4a4a4a">b25</text>
<text x="275.2" y="145" text-anchor="middle" dominant-baseline="central" font-family="&quot;Liberation Serif&quot;, serif" font-weight="bold" font-size="11.5" fill="#000">(b)</text>
<rect x="365.5" y="4.5" width="179.5" height="128" fill="#fff" stroke="#D9D9D9" stroke-width="0.8"/>
<line x1="386.6" x2="539" y1="84" y2="84" stroke="#CC9A00" stroke-width="0.6"/>
<polyline points="387.36,57.08 388.89,46.56 390.41,58.75 391.93,70.94 393.46,83.12 394.98,71.45 396.51,59.78 398.03,48.11 399.55,59.72 401.08,71.33 402.6,82.95 404.13,44.82 405.65,76.12 407.17,65.45 408.7,54.78 410.22,44.12 411.75,54.84 413.27,65.56 414.79,76.28 416.32,47.3 417.84,55.71 419.37,64.13 420.89,72.54 422.41,56.64 423.94,40.74 425.46,24.84 426.99,73.36 428.51,24.06 430.03,73.88 431.56,42.78 433.08,53.25 434.61,63.71 436.13,74.17 437.65,63.54 439.18,52.9 440.7,42.27 442.23,55.08 443.75,67.9 445.27,80.72 446.8,35.1 448.32,49.15 449.85,63.19 451.37,77.23 452.89,61.91 454.42,46.59 455.94,31.26 457.47,82.92 458.99,67.66 460.51,52.4 462.04,37.14 463.56,56.69 465.09,76.23 466.61,57.11 468.13,37.98 469.66,77.43 471.18,61.29 472.71,45.16 474.23,29.02 475.75,69.83 477.28,58.22 478.8,46.62 480.33,35.02 481.85,55.01 483.37,75 484.9,52.9 486.42,30.79 487.95,72.93 489.47,60.19 490.99,47.46 492.52,64.23 494.04,81 495.57,63.77 497.09,46.53 498.61,56.47 500.14,66.4 501.66,76.34 503.19,67.08 504.71,57.82 506.23,48.56 507.76,61.07 509.28,73.58 510.81,57.49 512.33,41.4 513.85,52 515.38,62.6 516.9,73.2 518.43,28.95 519.95,48.84 521.47,68.73 523,58.41 524.52,48.08 526.05,37.75 527.57,52.77 529.09,67.8 530.62,82.82 532.14,65.73 533.67,48.64 535.19,31.55 536.71,45.53 538.24,59.51" fill="none" stroke="#4472C4" stroke-width="0.5" stroke-opacity="0.7" stroke-linejoin="round"/>
<polyline points="387.36,58.71 388.89,74.31 390.41,36.83 391.93,54.06 393.46,71.29 394.98,25.52 396.51,68.73 398.03,54.03 399.55,39.32 401.08,75.96 402.6,54.17 404.13,32.38 405.65,49.14 407.17,65.91 408.7,82.67 410.22,42.42 411.75,67.7 413.27,53.48 414.79,39.27 416.32,25.06 417.84,72 419.37,43.78 420.89,66.41 422.41,30.32 423.94,53.54 425.46,76.76 426.99,66.59 428.51,56.41 430.03,46.24 431.56,68.87 433.08,56.39 434.61,43.9 436.13,31.42 437.65,54.04 439.18,76.66 440.7,61 442.23,45.34 443.75,63.83 445.27,82.32 446.8,71.6 448.32,60.87 449.85,50.15 451.37,58.65 452.89,67.16 454.42,75.66 455.94,62.92 457.47,50.18 458.99,62.39 460.51,74.6 462.04,36.71 463.56,81.95 465.09,24.19 466.61,53.33 468.13,82.47 469.66,49.6 471.18,79.08 472.71,62.17 474.23,45.25 475.75,28.33 477.28,48.72 478.8,69.11 480.33,59.28 481.85,49.44 483.37,39.61 484.9,48.84 486.42,58.07 487.95,67.29 489.47,52.24 490.99,37.19 492.52,82.37 494.04,28.88 495.57,76.27 497.09,43.35 498.61,57.91 500.14,72.47 501.66,48.39 503.19,82.79 504.71,60.55 506.23,38.31 507.76,52.12 509.28,65.93 510.81,45.67 512.33,25.41 513.85,72.7 515.38,36.31 516.9,66.95 518.43,43.54 519.95,61.93 521.47,80.33 523,64.73 524.52,49.14 526.05,33.54 527.57,51.87 529.09,70.2 530.62,59.64 532.14,49.08 533.67,38.53 535.19,59.65 536.71,80.77 538.24,54.77" fill="none" stroke="#A5A5A5" stroke-width="0.5" stroke-opacity="0.7" stroke-linejoin="round"/>
<polyline points="387.36,73.31 388.89,55.41 390.41,73.18 391.93,66.2 393.46,79.12 394.98,72.87 396.51,66.63 398.03,70.04 399.55,73.46 401.08,58.58 402.6,65.82 404.13,73.06 405.65,69.8 407.17,66.53 408.7,75.08 410.22,83.63 411.75,70.32 413.27,57.01 414.79,78.81 416.32,74.05 417.84,69.28 419.37,76.17 420.89,83.05 422.41,55.31 423.94,77.41 425.46,70.58 426.99,63.75 428.51,69.05 430.03,74.35 431.56,71.19 433.08,68.04 434.61,74.87 436.13,81.7 437.65,74.1 439.18,66.49 440.7,70.92 442.23,75.34 443.75,72.11 445.27,68.88 446.8,74.99 448.32,81.09 449.85,68.73 451.37,78.55 452.89,65.56 454.42,69.5 455.94,73.45 457.47,68.73 458.99,64 460.51,72.76 462.04,69.12 463.56,65.48 465.09,69.32 466.61,73.15 468.13,69.27 469.66,83.72 471.18,75.73 472.71,67.75 474.23,70.28 475.75,72.8 477.28,65.27 478.8,57.74 480.33,74.44 481.85,55.71 483.37,69.8 484.9,83.9 486.42,57.25 487.95,67.06 489.47,76.87 490.99,66.78 492.52,56.69 494.04,79.75 495.57,70.78 497.09,61.82 498.61,75.16 500.14,63.34 501.66,70.84 503.19,78.35 504.71,72.66 506.23,66.97 507.76,73.63 509.28,65.44 510.81,73.5 512.33,81.55 513.85,71.78 515.38,62.01 516.9,81.97 518.43,63.21 519.95,75.22 521.47,66.55 523,57.89 524.52,69.22 526.05,80.55 527.57,72.2 529.09,63.85 530.62,81.66 532.14,66.6 533.67,82.2 535.19,73.37 536.71,64.54 538.24,81.05" fill="none" stroke="#FFC000" stroke-width="0.5" stroke-opacity="0.7" stroke-linejoin="round"/>
<polyline points="387.36,55.49 388.89,72.9 390.41,60.98 391.93,49.07 393.46,81.65 394.98,60.74 396.51,39.83 398.03,61.18 399.55,82.54 401.08,61.13 402.6,39.73 404.13,53.84 405.65,67.94 407.17,47.53 408.7,27.12 410.22,49.14 411.75,71.16 413.27,51.61 414.79,32.06 416.32,66.59 417.84,48.41 419.37,79.78 420.89,69.97 422.41,60.16 423.94,50.35 425.46,65.52 426.99,80.69 428.51,65.63 430.03,50.57 431.56,58.47 433.08,66.38 434.61,74.28 436.13,35.24 437.65,47.31 439.18,59.38 440.7,71.45 442.23,55.89 443.75,40.33 445.27,24.77 446.8,71.71 448.32,60.55 449.85,49.39 451.37,38.23 452.89,53.86 454.42,69.5 455.94,54.66 457.47,39.82 458.99,53.92 460.51,68.02 462.04,82.12 463.56,39.76 465.09,82.78 466.61,38.66 468.13,77.82 469.66,67.84 471.18,57.86 472.71,47.89 474.23,81.25 475.75,62.44 477.28,43.62 478.8,24.81 480.33,83.54 481.85,33.94 483.37,53.2 484.9,72.47 486.42,53.36 487.95,34.26 489.47,58.01 490.99,81.77 492.52,52.68 494.04,23.6 495.57,49.43 497.09,75.27 498.61,48.34 500.14,55.68 501.66,63.03 503.19,70.37 504.71,61.4 506.23,52.43 507.76,43.46 509.28,81.07 510.81,69.07 512.33,57.08 513.85,45.08 515.38,55.86 516.9,66.64 518.43,77.42 519.95,35.87 521.47,53.04 523,70.22 524.52,24 526.05,47.67 527.57,71.35 529.09,36.54 530.62,77.53 532.14,63.74 533.67,49.95 535.19,36.16 536.71,78.01 538.24,33.96" fill="none" stroke="#5B9BD5" stroke-width="0.5" stroke-opacity="0.7" stroke-linejoin="round"/>
<polyline points="387.36,55.63 388.89,78.71 390.41,69.29 391.93,59.87 393.46,78.3 394.98,72.56 396.51,66.82 398.03,73.39 399.55,79.97 401.08,72.77 402.6,65.57 404.13,79.23 405.65,72.07 407.17,64.91 408.7,82.59 410.22,75.41 411.75,68.22 413.27,72.88 414.79,77.54 416.32,66.78 417.84,56.03 419.37,78.98 420.89,65.75 422.41,79.99 423.94,72.31 425.46,64.64 426.99,80.97 428.51,68.64 430.03,56.31 431.56,79.51 433.08,71.65 434.61,63.8 436.13,69.48 437.65,75.17 439.18,70.21 440.7,65.25 442.23,82.52 443.75,67.97 445.27,73.73 446.8,79.49 448.32,71.24 449.85,62.99 451.37,74.04 452.89,70.75 454.42,67.46 455.94,71.57 457.47,75.67 458.99,65.4 460.51,55.12 462.04,69.56 463.56,84 465.09,69.84 466.61,55.68 468.13,72.59 469.66,57.84 471.18,82.19 472.71,68.85 474.23,55.51 475.75,83 477.28,69.31 478.8,81.27 480.33,70.56 481.85,59.85 483.37,66.28 484.9,72.7 486.42,67.14 487.95,61.58 489.47,75.8 490.99,71.83 492.52,67.87 494.04,77.84 495.57,63.63 497.09,74.72 498.61,71.95 500.14,69.17 501.66,70.74 503.19,72.3 504.71,55.26 506.23,78.42 507.76,61.3 509.28,67.01 510.81,72.72 512.33,68.52 513.85,73.33 515.38,78.15 516.9,68.14 518.43,72.15 519.95,76.17 521.47,66 523,70.92 524.52,75.83 526.05,69.92 527.57,64.01 529.09,72.84 530.62,81.67 532.14,58.48 533.67,81.59 535.19,64.75 536.71,81.29 538.24,73.36" fill="none" stroke="#70AD47" stroke-width="0.5" stroke-opacity="0.7" stroke-linejoin="round"/>
<polyline points="387.36,53.61 388.89,31.8 390.41,46.49 391.93,61.18 393.46,75.87 394.98,49.81 396.51,23.74 398.03,82.54 399.55,44.49 401.08,61.18 402.6,77.86 404.13,63.13 405.65,48.4 407.17,33.66 408.7,51.19 410.22,68.72 411.75,47.31 413.27,25.89 414.79,69.47 416.32,27.92 417.84,41.1 419.37,54.28 420.89,67.46 422.41,48.84 423.94,30.23 425.46,49.03 426.99,67.84 428.51,48.5 430.03,29.16 431.56,46.92 433.08,64.67 434.61,82.42 436.13,61.15 437.65,39.89 439.18,70.49 440.7,30.92 442.23,65.95 443.75,56.25 445.27,46.56 446.8,69.34 448.32,57.56 449.85,45.78 451.37,34 452.89,44.73 454.42,55.46 455.94,66.18 457.47,25.12 458.99,74.03 460.51,66.05 462.04,58.07 463.56,50.09 465.09,57.46 466.61,64.83 468.13,72.19 469.66,30.24 471.18,76.12 472.71,28.15 474.23,83.49 475.75,42.69 477.28,56.4 478.8,70.12 480.33,56.86 481.85,43.61 483.37,68.84 484.9,47.35 486.42,25.87 487.95,39.81 489.47,53.74 490.99,67.68 492.52,56.71 494.04,45.74 495.57,34.77 497.09,48.63 498.61,62.49 500.14,76.35 501.66,47.11 503.19,74.48 504.71,26.88 506.23,72.94 507.76,59.46 509.28,45.98 510.81,72.75 512.33,54.13 513.85,35.51 515.38,47.54 516.9,59.57 518.43,71.6 519.95,35.53 521.47,67.95 523,55.92 524.52,43.9 526.05,83.23 527.57,67.77 529.09,52.3 530.62,36.84 532.14,83.49 533.67,68.53 535.19,53.56 536.71,38.59 538.24,47.83" fill="none" stroke="#698ED0" stroke-width="0.5" stroke-opacity="0.7" stroke-linejoin="round"/>
<polyline points="387.36,37.64 388.89,37.57 390.41,37.65 391.93,37.73 393.46,37.62 394.98,37.58 396.51,37.6 398.03,37.69 399.55,37.73 401.08,37.65 402.6,37.68 404.13,37.59 405.65,37.51 407.17,37.64 408.7,37.57 410.22,37.51 411.75,37.53 413.27,37.55 414.79,37.56 416.32,37.58 417.84,37.59 419.37,37.66 420.89,37.74 422.41,37.77 423.94,37.8 425.46,37.78 426.99,37.78 428.51,37.64 430.03,37.7 431.56,37.64 433.08,37.6 434.61,37.66 436.13,37.66 437.65,37.64 439.18,37.6 440.7,37.58 442.23,37.61 443.75,37.59 445.27,37.6 446.8,37.69 448.32,37.63 449.85,37.53 451.37,37.52 452.89,37.56 454.42,37.58 455.94,37.61 457.47,37.63 458.99,37.54 460.51,37.65 462.04,37.61 463.56,37.67 465.09,37.55 466.61,37.62 468.13,37.59 469.66,37.67 471.18,37.57 472.71,37.51 474.23,37.47 475.75,37.57 477.28,37.67 478.8,37.62 480.33,37.59 481.85,37.56 483.37,37.5 484.9,37.46 486.42,37.56 487.95,37.5 489.47,37.47 490.99,37.61 492.52,37.61 494.04,37.67 495.57,37.57 497.09,37.52 498.61,37.62 500.14,37.68 501.66,37.57 503.19,37.65 504.71,37.66 506.23,37.62 507.76,37.64 509.28,37.56 510.81,37.5 512.33,37.46 513.85,37.45 515.38,37.51 516.9,37.56 518.43,37.57 519.95,37.68 521.47,37.74 523,37.61 524.52,37.66 526.05,37.57 527.57,37.53 529.09,37.58 530.62,37.58 532.14,37.58 533.67,37.66 535.19,37.73 536.71,37.76 538.24,37.68" fill="none" stroke="#B7B7B7" stroke-width="0.5" stroke-opacity="0.7" stroke-linejoin="round"/>
<polyline points="387.36,26.67 388.89,26.71 390.41,26.8 391.93,26.8 393.46,26.79 394.98,26.71 396.51,26.72 398.03,26.69 399.55,26.79 401.08,26.84 402.6,26.71 404.13,26.75 405.65,26.7 407.17,26.79 408.7,26.72 410.22,26.65 411.75,26.65 413.27,26.63 414.79,26.76 416.32,26.83 417.84,26.77 419.37,26.71 420.89,26.79 422.41,26.84 423.94,26.72 425.46,26.76 426.99,26.69 428.51,26.65 430.03,26.64 431.56,26.64 433.08,26.72 434.61,26.66 436.13,26.67 437.65,26.74 439.18,26.77 440.7,26.73 442.23,26.65 443.75,26.69 445.27,26.75 446.8,26.65 448.32,26.69 449.85,26.69 451.37,26.68 452.89,26.75 454.42,26.76 455.94,26.81 457.47,26.79 458.99,26.74 460.51,26.78 462.04,26.79 463.56,26.79 465.09,26.71 466.61,26.76 468.13,26.7 469.66,26.79 471.18,26.7 472.71,26.62 474.23,26.67 475.75,26.69 477.28,26.67 478.8,26.62 480.33,26.71 481.85,26.71 483.37,26.65 484.9,26.63 486.42,26.7 487.95,26.73 489.47,26.75 490.99,26.81 492.52,26.81 494.04,26.86 495.57,26.85 497.09,26.78 498.61,26.67 500.14,26.73 501.66,26.73 503.19,26.76 504.71,26.66 506.23,26.62 507.76,26.58 509.28,26.56 510.81,26.58 512.33,26.59 513.85,26.7 515.38,26.75 516.9,26.72 518.43,26.74 519.95,26.76 521.47,26.83 523,26.79 524.52,26.74 526.05,26.82 527.57,26.87 529.09,26.8 530.62,26.81 532.14,26.77 533.67,26.75 535.19,26.76 536.71,26.78 538.24,26.83" fill="none" stroke="#7CAFDD" stroke-width="0.5" stroke-opacity="0.7" stroke-linejoin="round"/>
<polyline points="387.36,82.61 388.89,71.73 390.41,60.86 391.93,64.6 393.46,68.33 394.98,34.93 396.51,47.87 398.03,60.81 399.55,73.75 401.08,44.87 402.6,76.01 404.13,47.3 405.65,55.46 407.17,63.62 408.7,71.78 410.22,32.9 411.75,73.23 413.27,55.55 414.79,37.87 416.32,79.88 417.84,34.59 419.37,72.09 420.89,63.39 422.41,54.69 423.94,65.31 425.46,75.93 426.99,67.83 428.51,59.72 430.03,63.64 431.56,67.56 433.08,71.48 434.61,41.56 436.13,82.73 437.65,67.06 439.18,51.39 440.7,73.86 442.23,61.82 443.75,66.57 445.27,71.32 446.8,76.07 448.32,58.98 449.85,65.97 451.37,72.97 452.89,56.02 454.42,39.07 455.94,57.74 457.47,76.41 458.99,37.17 460.51,78.91 462.04,31.65 463.56,79.27 465.09,57.36 466.61,35.45 468.13,51.61 469.66,67.77 471.18,55.37 472.71,82.78 474.23,70.19 475.75,57.6 477.28,68.44 478.8,55.48 480.33,42.52 481.85,51.52 483.37,60.52 484.9,69.52 486.42,59.91 487.95,50.3 489.47,59.82 490.99,69.34 492.52,49.36 494.04,66.65 495.57,83.94 497.09,61.95 498.61,39.97 500.14,79.07 501.66,63.85 503.19,48.63 504.71,63.74 506.23,78.84 507.76,70.5 509.28,62.17 510.81,70.3 512.33,31.53 513.85,45.14 515.38,58.75 516.9,72.36 518.43,62.56 519.95,52.76 521.47,67.85 523,82.94 524.52,29.61 526.05,53.86 527.57,78.11 529.09,37.55 530.62,79.42 532.14,57.19 533.67,34.97 535.19,73.63 536.71,63.86 538.24,54.08" fill="none" stroke="#3C7DC4" stroke-width="0.5" stroke-opacity="0.7" stroke-linejoin="round"/>
<polyline points="387.36,70.1 388.89,67.83 390.41,73.64 391.93,65.31 393.46,56.99 394.98,70.26 396.51,83.53 398.03,65.91 399.55,81.77 401.08,68.73 402.6,55.68 404.13,77.98 405.65,70.36 407.17,62.74 408.7,74.9 410.22,71.34 411.75,67.77 413.27,74.61 414.79,81.45 416.32,64.34 417.84,72.97 419.37,81.61 420.89,68.77 422.41,71.6 423.94,74.44 425.46,68.88 426.99,63.33 428.51,72.58 430.03,81.83 431.56,68.18 433.08,71.42 434.61,74.66 436.13,68.4 437.65,74.66 439.18,59.95 440.7,68.14 442.23,76.33 443.75,67.73 445.27,59.12 446.8,65.76 448.32,72.4 449.85,63.2 451.37,71.76 452.89,80.33 454.42,63.25 455.94,68.55 457.47,73.85 458.99,66.86 460.51,59.87 462.04,75.45 463.56,65.48 465.09,55.5 466.61,64.46 468.13,73.42 469.66,67.66 471.18,73.45 472.71,79.23 474.23,62.56 475.75,82.47 477.28,71.85 478.8,61.23 480.33,72.09 481.85,82.95 483.37,58.51 484.9,70.4 486.42,82.29 487.95,66.95 489.47,73.14 490.99,63.7 492.52,80.46 494.04,67.74 495.57,55.01 497.09,67.66 498.61,80.31 500.14,68.06 501.66,76.48 503.19,60.21 504.71,74.27 506.23,61.03 507.76,79.31 509.28,63.7 510.81,82.25 512.33,68.72 513.85,72.44 515.38,76.16 516.9,71.88 518.43,67.6 519.95,72.57 521.47,77.54 523,68.67 524.52,59.8 526.05,68.48 527.57,77.16 529.09,70.39 530.62,63.62 532.14,71.19 533.67,78.76 535.19,66.7 536.71,71.72 538.24,76.74" fill="none" stroke="#5A8A39" stroke-width="0.5" stroke-opacity="0.7" stroke-linejoin="round"/>
<polyline points="387.36,59.75 388.89,45.51 390.41,62.52 391.93,79.53 393.46,68.95 394.98,58.36 396.51,47.78 398.03,61.96 399.55,76.14 401.08,55.97 402.6,35.79 404.13,51.08 405.65,66.36 407.17,31.93 408.7,47.21 410.22,62.49 411.75,77.77 413.27,30.81 414.79,53.73 416.32,76.64 417.84,23.91 419.37,43.85 420.89,63.8 422.41,83.74 423.94,57.11 425.46,30.48 426.99,76.17 428.51,62.27 430.03,48.37 431.56,54.97 433.08,61.58 434.61,68.18 436.13,53.52 437.65,38.86 439.18,24.21 440.7,51.9 442.23,79.6 443.75,49.44 445.27,65.29 446.8,81.14 448.32,65.86 449.85,50.58 451.37,55.89 452.89,61.21 454.42,66.52 455.94,41.86 457.47,54.15 458.99,66.45 460.51,44.74 462.04,64.36 463.56,83.98 465.09,66.19 466.61,48.39 468.13,74.86 469.66,43.91 471.18,82.35 472.71,70.48 474.23,58.62 475.75,46.75 477.28,83.24 478.8,69.66 480.33,56.09 481.85,42.51 483.37,54.93 484.9,67.35 486.42,79.77 487.95,24.57 489.47,40.4 490.99,56.22 492.52,72.05 494.04,57.8 495.57,43.55 497.09,29.3 498.61,53.11 500.14,76.92 501.66,53.97 503.19,31.03 504.71,47.78 506.23,64.53 507.76,81.28 509.28,33.81 510.81,50.27 512.33,66.74 513.85,83.2 515.38,64.26 516.9,45.31 518.43,26.36 519.95,42.97 521.47,59.59 523,76.2 524.52,28.53 526.05,41.51 527.57,54.49 529.09,67.46 530.62,35.18 532.14,46.45 533.67,57.71 535.19,68.98 536.71,55.63 538.24,42.27" fill="none" stroke="#8FAADC" stroke-width="0.5" stroke-opacity="0.7" stroke-linejoin="round"/>
<text x="380.8" y="83.5" text-anchor="end" dominant-baseline="central" font-size="5.3" fill="#4a4a4a" class="t">0</text>
<text x="380.8" y="59.83" text-anchor="end" dominant-baseline="central" font-size="5.3" fill="#4a4a4a" class="t">50</text>
<text x="380.8" y="36.17" text-anchor="end" dominant-baseline="central" font-size="5.3" fill="#4a4a4a" class="t">100</text>
<text x="380.8" y="12.5" text-anchor="end" dominant-baseline="central" font-size="5.3" fill="#4a4a4a" class="t">150</text>
<text transform="translate(371.85,26.2) rotate(-90)" text-anchor="middle" dominant-baseline="central" font-size="6.0" fill="#4a4a4a" class="t">pressure/N</text>
<text transform="translate(387.36,87.8) rotate(-90)" text-anchor="end" dominant-baseline="central" font-size="5.3" fill="#4a4a4a">1</text>
<text transform="translate(394.98,87.8) rotate(-90)" text-anchor="end" dominant-baseline="central" font-size="5.3" fill="#4a4a4a">6</text>
<text transform="translate(402.6,87.8) rotate(-90)" text-anchor="end" dominant-baseline="central" font-size="5.3" fill="#4a4a4a">11</text>
<text transform="translate(410.22,87.8) rotate(-90)" text-anchor="end" dominant-baseline="central" font-size="5.3" fill="#4a4a4a">16</text>
<text transform="translate(417.84,87.8) rotate(-90)" text-anchor="end" dominant-baseline="central" font-size="5.3" fill="#4a4a4a">21</text>
<text transform="translate(425.46,87.8) rotate(-90)" text-anchor="end" dominant-baseline="central" font-size="5.3" fill="#4a4a4a">26</text>
<text transform="translate(433.08,87.8) rotate(-90)" text-anchor="end" dominant-baseline="central" font-size="5.3" fill="#4a4a4a">31</text>
<text transform="translate(440.7,87.8) rotate(-90)" text-anchor="end" dominant-baseline="central" font-size="5.3" fill="#4a4a4a">36</text>
<text transform="translate(448.32,87.8) rotate(-90)" text-anchor="end" dominant-baseline="central" font-size="5.3" fill="#4a4a4a">41</text>
<text transform="translate(455.94,87.8) rotate(-90)" text-anchor="end" dominant-baseline="central" font-size="5.3" fill="#4a4a4a">46</text>
<text transform="translate(463.56,87.8) rotate(-90)" text-anchor="end" dominant-baseline="central" font-size="5.3" fill="#4a4a4a">51</text>
<text transform="translate(471.18,87.8) rotate(-90)" text-anchor="end" dominant-baseline="central" font-size="5.3" fill="#4a4a4a">56</text>
<text transform="translate(478.8,87.8) rotate(-90)" text-anchor="end" dominant-baseline="central" font-size="5.3" fill="#4a4a4a">61</text>
<text transform="translate(486.42,87.8) rotate(-90)" text-anchor="end" dominant-baseline="central" font-size="5.3" fill="#4a4a4a">66</text>
<text transform="translate(494.04,87.8) rotate(-90)" text-anchor="end" dominant-baseline="central" font-size="5.3" fill="#4a4a4a">71</text>
<text transform="translate(501.66,87.8) rotate(-90)" text-anchor="end" dominant-baseline="central" font-size="5.3" fill="#4a4a4a">76</text>
<text transform="translate(509.28,87.8) rotate(-90)" text-anchor="end" dominant-baseline="central" font-size="5.3" fill="#4a4a4a">81</text>
<text transform="translate(516.9,87.8) rotate(-90)" text-anchor="end" dominant-baseline="central" font-size="5.3" fill="#4a4a4a">86</text>
<text transform="translate(524.52,87.8) rotate(-90)" text-anchor="end" dominant-baseline="central" font-size="5.3" fill="#4a4a4a">91</text>
<text transform="translate(532.14,87.8) rotate(-90)" text-anchor="end" dominant-baseline="central" font-size="5.3" fill="#4a4a4a">96</text>
<text x="522" y="98" dominant-baseline="central" font-size="6.7" fill="#4a4a4a" class="t">time/ms</text>
<line x1="391.3" x2="402.8" y1="101.3" y2="101.3" stroke="#4472C4" stroke-width="0.8" stroke-opacity="0.6"/>
<text x="404.5" y="101.3" dominant-baseline="central" font-size="5.6" fill="#4a4a4a">c1</text>
<line x1="419.45" x2="430.95" y1="101.3" y2="101.3" stroke="#ED7D31" stroke-width="0.8" stroke-opacity="0.6"/>
<text x="432.65" y="101.3" dominant-baseline="central" font-size="5.6" fill="#4a4a4a">c2</text>
<line x1="447.6" x2="459.1" y1="101.3" y2="101.3" stroke="#A5A5A5" stroke-width="0.8" stroke-opacity="0.6"/>
<text x="460.8" y="101.3" dominant-baseline="central" font-size="5.6" fill="#4a4a4a">c3</text>
<line x1="475.75" x2="487.25" y1="101.3" y2="101.3" stroke="#FFC000" stroke-width="0.8" stroke-opacity="0.6"/>
<text x="488.95" y="101.3" dominant-baseline="central" font-size="5.6" fill="#4a4a4a">c4</text>
<line x1="503.9" x2="515.4" y1="101.3" y2="101.3" stroke="#5B9BD5" stroke-width="0.8" stroke-opacity="0.6"/>
<text x="517.1" y="101.3" dominant-baseline="central" font-size="5.6" fill="#4a4a4a">c5</text>
<line x1="391.3" x2="402.8" y1="107.45" y2="107.45" stroke="#70AD47" stroke-width="0.8" stroke-opacity="0.6"/>
<text x="404.5" y="107.45" dominant-baseline="central" font-size="5.6" fill="#4a4a4a">c6</text>
<line x1="419.45" x2="430.95" y1="107.45" y2="107.45" stroke="#264478" stroke-width="0.8" stroke-opacity="0.6"/>
<text x="432.65" y="107.45" dominant-baseline="central" font-size="5.6" fill="#4a4a4a">c7</text>
<line x1="447.6" x2="459.1" y1="107.45" y2="107.45" stroke="#9E480E" stroke-width="0.8" stroke-opacity="0.6"/>
<text x="460.8" y="107.45" dominant-baseline="central" font-size="5.6" fill="#4a4a4a">c8</text>
<line x1="475.75" x2="487.25" y1="107.45" y2="107.45" stroke="#636363" stroke-width="0.8" stroke-opacity="0.6"/>
<text x="488.95" y="107.45" dominant-baseline="central" font-size="5.6" fill="#4a4a4a">c9</text>
<line x1="503.9" x2="515.4" y1="107.45" y2="107.45" stroke="#997300" stroke-width="0.8" stroke-opacity="0.6"/>
<text x="517.1" y="107.45" dominant-baseline="central" font-size="5.6" fill="#4a4a4a">c10</text>
<line x1="391.3" x2="402.8" y1="113.6" y2="113.6" stroke="#255E91" stroke-width="0.8" stroke-opacity="0.6"/>
<text x="404.5" y="113.6" dominant-baseline="central" font-size="5.6" fill="#4a4a4a">c11</text>
<line x1="419.45" x2="430.95" y1="113.6" y2="113.6" stroke="#43682B" stroke-width="0.8" stroke-opacity="0.6"/>
<text x="432.65" y="113.6" dominant-baseline="central" font-size="5.6" fill="#4a4a4a">c12</text>
<line x1="447.6" x2="459.1" y1="113.6" y2="113.6" stroke="#698ED0" stroke-width="0.8" stroke-opacity="0.6"/>
<text x="460.8" y="113.6" dominant-baseline="central" font-size="5.6" fill="#4a4a4a">c13</text>
<line x1="475.75" x2="487.25" y1="113.6" y2="113.6" stroke="#F1975A" stroke-width="0.8" stroke-opacity="0.6"/>
<text x="488.95" y="113.6" dominant-baseline="central" font-size="5.6" fill="#4a4a4a">c14</text>
<line x1="503.9" x2="515.4" y1="113.6" y2="113.6" stroke="#B7B7B7" stroke-width="0.8" stroke-opacity="0.6"/>
<text x="517.1" y="113.6" dominant-baseline="central" font-size="5.6" fill="#4a4a4a">c15</text>
<line x1="391.3" x2="402.8" y1="119.75" y2="119.75" stroke="#FFCD33" stroke-width="0.8" stroke-opacity="0.6"/>
<text x="404.5" y="119.75" dominant-baseline="central" font-size="5.6" fill="#4a4a4a">c16</text>
<line x1="419.45" x2="430.95" y1="119.75" y2="119.75" stroke="#7CAFDD" stroke-width="0.8" stroke-opacity="0.6"/>
<text x="432.65" y="119.75" dominant-baseline="central" font-size="5.6" fill="#4a4a4a">c17</text>
<line x1="447.6" x2="459.1" y1="119.75" y2="119.75" stroke="#8CC168" stroke-width="0.8" stroke-opacity="0.6"/>
<text x="460.8" y="119.75" dominant-baseline="central" font-size="5.6" fill="#4a4a4a">c18</text>
<line x1="475.75" x2="487.25" y1="119.75" y2="119.75" stroke="#335AA1" stroke-width="0.8" stroke-opacity="0.6"/>
<text x="488.95" y="119.75" dominant-baseline="central" font-size="5.6" fill="#4a4a4a">c19</text>
<line x1="503.9" x2="515.4" y1="119.75" y2="119.75" stroke="#D26012" stroke-width="0.8" stroke-opacity="0.6"/>
<text x="517.1" y="119.75" dominant-baseline="central" font-size="5.6" fill="#4a4a4a">c20</text>
<line x1="391.3" x2="402.8" y1="125.9" y2="125.9" stroke="#848484" stroke-width="0.8" stroke-opacity="0.6"/>
<text x="404.5" y="125.9" dominant-baseline="central" font-size="5.6" fill="#4a4a4a">c21</text>
<line x1="419.45" x2="430.95" y1="125.9" y2="125.9" stroke="#CC9A00" stroke-width="0.8" stroke-opacity="0.6"/>
<text x="432.65" y="125.9" dominant-baseline="central" font-size="5.6" fill="#4a4a4a">c21</text>
<line x1="447.6" x2="459.1" y1="125.9" y2="125.9" stroke="#3C7DC4" stroke-width="0.8" stroke-opacity="0.6"/>
<text x="460.8" y="125.9" dominant-baseline="central" font-size="5.6" fill="#4a4a4a">c23</text>
<line x1="475.75" x2="487.25" y1="125.9" y2="125.9" stroke="#5A8A39" stroke-width="0.8" stroke-opacity="0.6"/>
<text x="488.95" y="125.9" dominant-baseline="central" font-size="5.6" fill="#4a4a4a">c24</text>
<line x1="503.9" x2="515.4" y1="125.9" y2="125.9" stroke="#8FAADC" stroke-width="0.8" stroke-opacity="0.6"/>
<text x="517.1" y="125.9" dominant-baseline="central" font-size="5.6" fill="#4a4a4a">c25</text>
<text x="455.7" y="145" text-anchor="middle" dominant-baseline="central" font-family="&quot;Liberation Serif&quot;, serif" font-weight="bold" font-size="11.5" fill="#000">(c)</text>
<rect x="47.3" y="154.5" width="184.1" height="128.5" fill="#fff" stroke="#D9D9D9" stroke-width="0.8"/>
<line x1="68.2" x2="224.5" y1="234.1" y2="234.1" stroke="#8CC168" stroke-width="0.8"/>
<polyline points="68.98,173.06 70.54,173.02 72.11,173.04 73.67,172.99 75.23,172.95 76.8,173.09 78.36,173.19 79.92,173.01 81.49,173.07 83.05,173.11 84.61,172.92 86.17,172.95 87.74,172.87 89.3,172.92 90.86,172.91 92.43,173.04 93.99,172.98 95.55,172.88 97.12,172.91 98.68,172.87 100.24,172.87 101.8,173.04 103.37,172.94 104.93,172.93 106.49,173.01 108.06,173.14 109.62,172.97 111.18,172.98 112.75,172.92 114.31,172.84 115.87,172.84 117.43,172.77 119,172.89 120.56,172.84 122.12,172.91 123.69,172.82 125.25,172.78 126.81,172.98 128.38,173.08 129.94,173.13 131.5,172.94 133.06,172.97 134.63,172.94 136.19,173.02 137.75,173 139.32,173.03 140.88,173.05 142.44,173 144.01,172.97 145.57,172.86 147.13,172.86 148.69,172.79 150.26,172.76 151.82,172.71 153.38,172.77 154.95,172.95 156.51,172.86 158.07,172.78 159.64,172.74 161.2,172.82 162.76,172.82 164.32,172.97 165.89,172.88 167.45,172.9 169.01,173 170.58,173.12 172.14,172.96 173.7,172.83 175.27,173.01 176.83,172.91 178.39,172.97 179.95,173.08 181.52,173.1 183.08,172.98 184.64,172.87 186.21,173.05 187.77,172.99 189.33,173.12 190.9,173 192.46,173.04 194.02,172.91 195.58,172.8 197.15,172.87 198.71,172.77 200.27,172.91 201.84,173.06 203.4,173 204.96,173.13 206.53,173.16 208.09,173.12 209.65,173.03 211.21,173.11 212.78,173.19 214.34,173 215.9,173.05 217.47,172.89 219.03,172.82 220.59,172.92 222.16,172.96 223.72,172.96" fill="none" stroke="#4472C4" stroke-width="0.55" stroke-opacity="0.7" stroke-linejoin="round"/>
<polyline points="68.98,229.36 70.54,190.7 72.11,231.23 73.67,192.68 75.23,230.62 76.8,192.94 78.36,211.15 79.92,200.18 81.49,228.2 83.05,194.15 84.61,230.6 86.17,195.85 87.74,196.07 89.3,197.35 90.86,226.05 92.43,225.22 93.99,200.2 95.55,211.07 97.12,202.35 98.68,229.78 100.24,201.56 101.8,217.78 103.37,219.69 104.93,219.84 106.49,217.17 108.06,220.15 109.62,187.91 111.18,190.54 112.75,213.62 114.31,193.11 115.87,217.23 117.43,219.31 119,184.87 120.56,184.53 122.12,185.4 123.69,226.82 125.25,226.94 126.81,198.38 128.38,218.81 129.94,193.18 131.5,228.43 133.06,201.89 134.63,215.56 136.19,200.12 137.75,213.75 139.32,181.41 140.88,181.73 142.44,180.24 144.01,223.83 145.57,192.88 147.13,195.4 148.69,229.36 150.26,186.9 151.82,230.66 153.38,187.01 154.95,231.46 156.51,179.28 158.07,219.73 159.64,183.74 161.2,214.92 162.76,197.93 164.32,230.02 165.89,231.7 167.45,179.3 169.01,212.69 170.58,191.3 172.14,214.05 173.7,187.07 175.27,184.7 176.83,218.87 178.39,199.78 179.95,199.18 181.52,201.06 183.08,221.82 184.64,200.59 186.21,221.39 187.77,189.21 189.33,222.7 190.9,187.93 192.46,224.24 194.02,225.3 195.58,200.42 197.15,228.19 198.71,226.74 200.27,223.63 201.84,180.14 203.4,222.79 204.96,220.22 206.53,220.32 208.09,220.91 209.65,218.23 211.21,180.07 212.78,229.66 214.34,195.39 215.9,218.1 217.47,184.6 219.03,222.5 220.59,184.67 222.16,225.59 223.72,195.27" fill="none" stroke="#5a8cc8" stroke-width="0.6" stroke-opacity="0.9" stroke-linejoin="round"/>
<polyline points="68.98,176.16 70.54,176.2 72.11,176.17 73.67,176.1 75.23,176.04 76.8,176.02 78.36,176.03 79.92,176.13 81.49,176.14 83.05,176.18 84.61,176.14 86.17,176.11 87.74,176.17 89.3,176.19 90.86,176.1 92.43,176.19 93.99,176.1 95.55,176.02 97.12,175.97 98.68,176.04 100.24,176.06 101.8,176.06 103.37,176.05 104.93,175.98 106.49,175.99 108.06,176.07 109.62,176.02 111.18,176.05 112.75,176.05 114.31,176.03 115.87,176.15 117.43,176.08 119,176.06 120.56,176.08 122.12,176.08 123.69,176.1 125.25,176.16 126.81,176.13 128.38,176.21 129.94,176.16 131.5,176.11 133.06,176.12 134.63,176.1 136.19,176.01 137.75,175.97 139.32,176.09 140.88,176.04 142.44,176.04 144.01,176.15 145.57,176.16 147.13,176.19 148.69,176.23 150.26,176.17 151.82,176.06 153.38,176.11 154.95,176.04 156.51,176.02 158.07,176.13 159.64,176.05 161.2,176.05 162.76,175.99 164.32,175.99 165.89,175.99 167.45,176.06 169.01,176.02 170.58,175.97 172.14,175.95 173.7,176.02 175.27,176.01 176.83,176.05 178.39,176.14 179.95,176.21 181.52,176.25 183.08,176.25 184.64,176.25 186.21,176.19 187.77,176.12 189.33,176.1 190.9,176.12 192.46,176.08 194.02,176.13 195.58,176.12 197.15,176.06 198.71,176.1 200.27,176.16 201.84,176.06 203.4,176.03 204.96,176.09 206.53,176.12 208.09,176.1 209.65,176.08 211.21,176.14 212.78,176.22 214.34,176.23 215.9,176.12 217.47,176.18 219.03,176.16 220.59,176.19 222.16,176.21 223.72,176.23" fill="none" stroke="#255E91" stroke-width="0.55" stroke-opacity="0.7" stroke-linejoin="round"/>
<polyline points="68.98,174.88 70.54,174.95 72.11,174.84 73.67,175 75.23,174.84 76.8,174.81 78.36,174.73 79.92,174.68 81.49,174.66 83.05,174.73 84.61,174.94 86.17,174.85 87.74,174.97 89.3,175 90.86,174.91 92.43,174.9 93.99,174.93 95.55,174.79 97.12,174.8 98.68,174.89 100.24,174.97 101.8,174.84 103.37,174.87 104.93,174.8 106.49,174.88 108.06,174.98 109.62,174.94 111.18,174.83 112.75,174.96 114.31,174.85 115.87,174.75 117.43,174.72 119,174.7 120.56,174.92 122.12,174.88 123.69,174.78 125.25,174.96 126.81,175 128.38,175.03 129.94,174.97 131.5,174.97 133.06,174.95 134.63,174.85 136.19,175.01 137.75,175.1 139.32,175.13 140.88,175.14 142.44,175.17 144.01,174.93 145.57,174.82 147.13,174.97 148.69,174.94 150.26,174.98 151.82,175 153.38,175 154.95,174.92 156.51,174.89 158.07,174.93 159.64,175.01 161.2,175.02 162.76,175.08 164.32,174.99 165.89,174.89 167.45,174.93 169.01,175.04 170.58,175.08 172.14,175.04 173.7,174.96 175.27,174.85 176.83,174.91 178.39,174.82 179.95,174.82 181.52,174.87 183.08,174.92 184.64,174.91 186.21,174.85 187.77,174.89 189.33,174.84 190.9,174.88 192.46,174.96 194.02,174.93 195.58,174.86 197.15,175 198.71,174.98 200.27,174.97 201.84,174.83 203.4,174.74 204.96,174.84 206.53,174.75 208.09,174.73 209.65,174.87 211.21,174.89 212.78,175 214.34,174.87 215.9,174.84 217.47,174.75 219.03,174.73 220.59,174.75 222.16,174.74 223.72,174.79" fill="none" stroke="#698ED0" stroke-width="0.55" stroke-opacity="0.7" stroke-linejoin="round"/>
<polyline points="68.98,173.9 70.54,173.89 72.11,173.9 73.67,173.88 75.23,173.78 76.8,173.84 78.36,173.9 79.92,173.86 81.49,173.97 83.05,174.01 84.61,173.85 86.17,173.88 87.74,173.89 89.3,174.05 90.86,174.03 92.43,173.97 93.99,174.1 95.55,174 97.12,173.94 98.68,174.07 100.24,173.98 101.8,173.98 103.37,173.91 104.93,173.97 106.49,173.9 108.06,173.85 109.62,174.02 111.18,174.12 112.75,174 114.31,173.84 115.87,173.95 117.43,173.96 119,173.93 120.56,173.99 122.12,174.01 123.69,174.04 125.25,174.04 126.81,173.97 128.38,174.02 129.94,174.02 131.5,173.91 133.06,174.06 134.63,173.99 136.19,173.91 137.75,173.98 139.32,174.04 140.88,173.92 142.44,174 144.01,174.07 145.57,174.04 147.13,173.94 148.69,174.06 150.26,174.06 151.82,174.06 153.38,173.92 154.95,173.95 156.51,173.84 158.07,173.98 159.64,174.01 161.2,173.94 162.76,173.83 164.32,173.89 165.89,173.99 167.45,174.08 169.01,174.02 170.58,174.08 172.14,173.94 173.7,173.84 175.27,173.97 176.83,174.03 178.39,173.9 179.95,173.88 181.52,173.82 183.08,173.91 184.64,174.03 186.21,174.06 187.77,173.93 189.33,174 190.9,174.02 192.46,174.01 194.02,174.01 195.58,174.01 197.15,173.86 198.71,173.99 200.27,174.12 201.84,173.92 203.4,173.82 204.96,173.73 206.53,173.83 208.09,173.75 209.65,173.7 211.21,173.88 212.78,173.83 214.34,173.78 215.9,173.8 217.47,173.85 219.03,173.95 220.59,173.99 222.16,174.05 223.72,174.13" fill="none" stroke="#7CAFDD" stroke-width="0.55" stroke-opacity="0.7" stroke-linejoin="round"/>
<polyline points="68.98,172.47 70.54,172.4 72.11,172.37 73.67,172.48 75.23,172.55 76.8,172.58 78.36,172.61 79.92,172.53 81.49,172.45 83.05,172.4 84.61,172.49 86.17,172.42 87.74,172.49 89.3,172.51 90.86,172.47 92.43,172.56 93.99,172.62 95.55,172.51 97.12,172.55 98.68,172.56 100.24,172.52 101.8,172.48 103.37,172.59 104.93,172.59 106.49,172.57 108.06,172.54 109.62,172.58 111.18,172.54 112.75,172.44 114.31,172.49 115.87,172.48 117.43,172.57 119,172.59 120.56,172.52 122.12,172.59 123.69,172.48 125.25,172.41 126.81,172.53 128.38,172.43 129.94,172.49 131.5,172.44 133.06,172.42 134.63,172.49 136.19,172.46 137.75,172.45 139.32,172.41 140.88,172.5 142.44,172.45 144.01,172.38 145.57,172.4 147.13,172.44 148.69,172.54 150.26,172.53 151.82,172.55 153.38,172.49 154.95,172.46 156.51,172.47 158.07,172.54 159.64,172.5 161.2,172.48 162.76,172.55 164.32,172.46 165.89,172.45 167.45,172.54 169.01,172.45 170.58,172.54 172.14,172.56 173.7,172.49 175.27,172.48 176.83,172.48 178.39,172.46 179.95,172.49 181.52,172.53 183.08,172.58 184.64,172.63 186.21,172.54 187.77,172.48 189.33,172.48 190.9,172.44 192.46,172.5 194.02,172.54 195.58,172.55 197.15,172.46 198.71,172.57 200.27,172.54 201.84,172.58 203.4,172.5 204.96,172.53 206.53,172.55 208.09,172.55 209.65,172.53 211.21,172.47 212.78,172.51 214.34,172.44 215.9,172.54 217.47,172.57 219.03,172.62 220.59,172.65 222.16,172.54 223.72,172.48" fill="none" stroke="#335AA1" stroke-width="0.55" stroke-opacity="0.7" stroke-linejoin="round"/>
<polyline points="68.98,207.22 70.54,207.27 72.11,207.31 73.67,207.26 75.23,207.23 76.8,207.19 78.36,207.2 79.92,207.22 81.49,207.21 83.05,207.27 84.61,207.26 86.17,207.26 87.74,207.3 89.3,207.27 90.86,207.28 92.43,207.27 93.99,207.28 95.55,207.29 97.12,207.29 98.68,207.27 100.24,207.22 101.8,207.19 103.37,207.18 104.93,207.18 106.49,207.23 108.06,207.2 109.62,207.24 111.18,207.28 112.75,207.27 114.31,207.24 115.87,207.27 117.43,207.25 119,207.27 120.56,207.22 122.12,207.24 123.69,207.25 125.25,207.25 126.81,207.22 128.38,207.19 129.94,207.21 131.5,207.24 133.06,207.23 134.63,207.28 136.19,207.28 137.75,207.24 139.32,207.22 140.88,207.28 142.44,207.23 144.01,207.26 145.57,207.21 147.13,207.24 148.69,207.28 150.26,207.26 151.82,207.22 153.38,207.24 154.95,207.21 156.51,207.21 158.07,207.24 159.64,207.27 161.2,207.26 162.76,207.27 164.32,207.28 165.89,207.25 167.45,207.22 169.01,207.23 170.58,207.27 172.14,207.29 173.7,207.29 175.27,207.27 176.83,207.3 178.39,207.32 179.95,207.31 181.52,207.31 183.08,207.33 184.64,207.3 186.21,207.24 187.77,207.25 189.33,207.23 190.9,207.21 192.46,207.2 194.02,207.18 195.58,207.22 197.15,207.22 198.71,207.27 200.27,207.23 201.84,207.25 203.4,207.26 204.96,207.22 206.53,207.25 208.09,207.29 209.65,207.24 211.21,207.24 212.78,207.29 214.34,207.32 215.9,207.31 217.47,207.34 219.03,207.27 220.59,207.3 222.16,207.3 223.72,207.3" fill="none" stroke="#3C7DC4" stroke-width="0.55" stroke-opacity="0.7" stroke-linejoin="round"/>
<polyline points="68.98,222.9 70.54,221.37 72.11,220.16 73.67,219.81 75.23,226.93 76.8,213.67 78.36,221.7 79.92,214.94 81.49,213.96 83.05,229.89 84.61,231.46 86.17,213.85 87.74,230.92 89.3,219.12 90.86,219.23 92.43,218.31 93.99,219.81 95.55,232.96 97.12,216.96 98.68,225.81 100.24,217.39 101.8,222.38 103.37,218.21 104.93,227.38 106.49,226.81 108.06,225.82 109.62,220.22 111.18,219.29 112.75,221.99 114.31,217.9 115.87,232.91 117.43,231.63 119,231.74 120.56,230.36 122.12,230.03 123.69,214.05 125.25,230.69 126.81,229.1 128.38,215.83 129.94,227.04 131.5,227.19 133.06,228.3 134.63,214 136.19,221.72 137.75,220.33 139.32,221.84 140.88,213.55 142.44,229.39 144.01,228.06 145.57,211.63 147.13,226.23 148.69,224.75 150.26,225.73 151.82,226.76 153.38,209.07 154.95,229.51 156.51,228.08 158.07,216.08 159.64,231.38 161.2,206.62 162.76,230.06 164.32,221.12 165.89,223.17 167.45,222.75 169.01,224.34 170.58,206.92 172.14,229.55 173.7,218.09 175.27,232.51 176.83,206.98 178.39,220.99 179.95,206.41 181.52,206.3 183.08,232.41 184.64,233.14 186.21,209.15 187.77,210.61 189.33,210.5 190.9,231.7 192.46,206.5 194.02,231.38 195.58,220.36 197.15,220.86 198.71,219.31 200.27,217.71 201.84,218.53 203.4,220.38 204.96,211.08 206.53,232.85 208.09,210.35 209.65,210.13 211.21,225.92 212.78,213.8 214.34,214.76 215.9,220.62 217.47,221.65 219.03,220.56 220.59,218.12 222.16,232.43 223.72,232.72" fill="none" stroke="#6f9a50" stroke-width="0.6" stroke-opacity="0.85" stroke-linejoin="round"/>
<polyline points="68.98,175.74 70.54,175.66 72.11,175.79 73.67,175.82 75.23,175.66 76.8,175.78 78.36,175.83 79.92,175.86 81.49,175.66 83.05,175.74 84.61,175.83 86.17,175.65 87.74,175.75 89.3,175.6 90.86,175.56 92.43,175.49 93.99,175.41 95.55,175.47 97.12,175.45 98.68,175.65 100.24,175.56 101.8,175.58 103.37,175.54 104.93,175.68 106.49,175.59 108.06,175.48 109.62,175.66 111.18,175.7 112.75,175.65 114.31,175.54 115.87,175.65 117.43,175.73 119,175.76 120.56,175.67 122.12,175.58 123.69,175.63 125.25,175.66 126.81,175.68 128.38,175.7 129.94,175.69 131.5,175.78 133.06,175.72 134.63,175.54 136.19,175.6 137.75,175.54 139.32,175.67 140.88,175.59 142.44,175.53 144.01,175.52 145.57,175.55 147.13,175.59 148.69,175.56 150.26,175.47 151.82,175.63 153.38,175.74 154.95,175.62 156.51,175.5 158.07,175.55 159.64,175.59 161.2,175.54 162.76,175.66 164.32,175.71 165.89,175.76 167.45,175.68 169.01,175.71 170.58,175.75 172.14,175.64 173.7,175.5 175.27,175.61 176.83,175.56 178.39,175.61 179.95,175.51 181.52,175.53 183.08,175.63 184.64,175.71 186.21,175.81 187.77,175.74 189.33,175.73 190.9,175.78 192.46,175.76 194.02,175.75 195.58,175.62 197.15,175.72 198.71,175.54 200.27,175.58 201.84,175.57 203.4,175.6 204.96,175.51 206.53,175.46 208.09,175.51 209.65,175.56 211.21,175.52 212.78,175.46 214.34,175.55 215.9,175.51 217.47,175.42 219.03,175.51 220.59,175.63 222.16,175.7 223.72,175.61" fill="none" stroke="#8FAADC" stroke-width="0.55" stroke-opacity="0.7" stroke-linejoin="round"/>
<text x="62.7" y="234.1" text-anchor="end" dominant-baseline="central" font-size="5.3" fill="#4a4a4a" class="t">0</text>
<text x="62.7" y="210.13" text-anchor="end" dominant-baseline="central" font-size="5.3" fill="#4a4a4a" class="t">50</text>
<text x="62.7" y="186.17" text-anchor="end" dominant-baseline="central" font-size="5.3" fill="#4a4a4a" class="t">100</text>
<text x="62.7" y="162.2" text-anchor="end" dominant-baseline="central" font-size="5.3" fill="#4a4a4a" class="t">150</text>
<text transform="translate(52.7,176.5) rotate(-90)" text-anchor="middle" dominant-baseline="central" font-size="5.6" fill="#4a4a4a" class="t">pressure/N</text>
<text transform="translate(68.98,237.7) rotate(-90)" text-anchor="end" dominant-baseline="central" font-size="5.3" fill="#4a4a4a">1</text>
<text transform="translate(76.8,237.7) rotate(-90)" text-anchor="end" dominant-baseline="central" font-size="5.3" fill="#4a4a4a">6</text>
<text transform="translate(84.61,237.7) rotate(-90)" text-anchor="end" dominant-baseline="central" font-size="5.3" fill="#4a4a4a">11</text>
<text transform="translate(92.43,237.7) rotate(-90)" text-anchor="end" dominant-baseline="central" font-size="5.3" fill="#4a4a4a">16</text>
<text transform="translate(100.24,237.7) rotate(-90)" text-anchor="end" dominant-baseline="central" font-size="5.3" fill="#4a4a4a">21</text>
<text transform="translate(108.06,237.7) rotate(-90)" text-anchor="end" dominant-baseline="central" font-size="5.3" fill="#4a4a4a">26</text>
<text transform="translate(115.87,237.7) rotate(-90)" text-anchor="end" dominant-baseline="central" font-size="5.3" fill="#4a4a4a">31</text>
<text transform="translate(123.69,237.7) rotate(-90)" text-anchor="end" dominant-baseline="central" font-size="5.3" fill="#4a4a4a">36</text>
<text transform="translate(131.5,237.7) rotate(-90)" text-anchor="end" dominant-baseline="central" font-size="5.3" fill="#4a4a4a">41</text>
<text transform="translate(139.32,237.7) rotate(-90)" text-anchor="end" dominant-baseline="central" font-size="5.3" fill="#4a4a4a">46</text>
<text transform="translate(147.13,237.7) rotate(-90)" text-anchor="end" dominant-baseline="central" font-size="5.3" fill="#4a4a4a">51</text>
<text transform="translate(154.95,237.7) rotate(-90)" text-anchor="end" dominant-baseline="central" font-size="5.3" fill="#4a4a4a">56</text>
<text transform="translate(162.76,237.7) rotate(-90)" text-anchor="end" dominant-baseline="central" font-size="5.3" fill="#4a4a4a">61</text>
<text transform="translate(170.58,237.7) rotate(-90)" text-anchor="end" dominant-baseline="central" font-size="5.3" fill="#4a4a4a">66</text>
<text transform="translate(178.39,237.7) rotate(-90)" text-anchor="end" dominant-baseline="central" font-size="5.3" fill="#4a4a4a">71</text>
<text transform="translate(186.21,237.7) rotate(-90)" text-anchor="end" dominant-baseline="central" font-size="5.3" fill="#4a4a4a">76</text>
<text transform="translate(194.02,237.7) rotate(-90)" text-anchor="end" dominant-baseline="central" font-size="5.3" fill="#4a4a4a">81</text>
<text transform="translate(201.84,237.7) rotate(-90)" text-anchor="end" dominant-baseline="central" font-size="5.3" fill="#4a4a4a">86</text>
<text transform="translate(209.65,237.7) rotate(-90)" text-anchor="end" dominant-baseline="central" font-size="5.3" fill="#4a4a4a">91</text>
<text transform="translate(217.47,237.7) rotate(-90)" text-anchor="end" dominant-baseline="central" font-size="5.3" fill="#4a4a4a">96</text>
<text x="207.6" y="248.0" dominant-baseline="central" font-size="6.4" fill="#4a4a4a" class="t">time/ms</text>
<line x1="72.2" x2="83.7" y1="251.2" y2="251.2" stroke="#4472C4" stroke-width="0.8" stroke-opacity="0.6"/>
<text x="85.4" y="251.2" dominant-baseline="central" font-size="5.6" fill="#4a4a4a">d1</text>
<line x1="100.95" x2="112.45" y1="251.2" y2="251.2" stroke="#ED7D31" stroke-width="0.8" stroke-opacity="0.6"/>
<text x="114.15" y="251.2" dominant-baseline="central" font-size="5.6" fill="#4a4a4a">d2</text>
<line x1="129.7" x2="141.2" y1="251.2" y2="251.2" stroke="#A5A5A5" stroke-width="0.8" stroke-opacity="0.6"/>
<text x="142.9" y="251.2" dominant-baseline="central" font-size="5.6" fill="#4a4a4a">d3</text>
<line x1="158.45" x2="169.95" y1="251.2" y2="251.2" stroke="#FFC000" stroke-width="0.8" stroke-opacity="0.6"/>
<text x="171.65" y="251.2" dominant-baseline="central" font-size="5.6" fill="#4a4a4a">d4</text>
<line x1="187.2" x2="198.7" y1="251.2" y2="251.2" stroke="#5B9BD5" stroke-width="0.8" stroke-opacity="0.6"/>
<text x="200.4" y="251.2" dominant-baseline="central" font-size="5.6" fill="#4a4a4a">d5</text>
<line x1="72.2" x2="83.7" y1="257.35" y2="257.35" stroke="#70AD47" stroke-width="0.8" stroke-opacity="0.6"/>
<text x="85.4" y="257.35" dominant-baseline="central" font-size="5.6" fill="#4a4a4a">d6</text>
<line x1="100.95" x2="112.45" y1="257.35" y2="257.35" stroke="#264478" stroke-width="0.8" stroke-opacity="0.6"/>
<text x="114.15" y="257.35" dominant-baseline="central" font-size="5.6" fill="#4a4a4a">d7</text>
<line x1="129.7" x2="141.2" y1="257.35" y2="257.35" stroke="#9E480E" stroke-width="0.8" stroke-opacity="0.6"/>
<text x="142.9" y="257.35" dominant-baseline="central" font-size="5.6" fill="#4a4a4a">d8</text>
<line x1="158.45" x2="169.95" y1="257.35" y2="257.35" stroke="#636363" stroke-width="0.8" stroke-opacity="0.6"/>
<text x="171.65" y="257.35" dominant-baseline="central" font-size="5.6" fill="#4a4a4a">d9</text>
<line x1="187.2" x2="198.7" y1="257.35" y2="257.35" stroke="#997300" stroke-width="0.8" stroke-opacity="0.6"/>
<text x="200.4" y="257.35" dominant-baseline="central" font-size="5.6" fill="#4a4a4a">d10</text>
<line x1="72.2" x2="83.7" y1="263.5" y2="263.5" stroke="#255E91" stroke-width="0.8" stroke-opacity="0.6"/>
<text x="85.4" y="263.5" dominant-baseline="central" font-size="5.6" fill="#4a4a4a">d11</text>
<line x1="100.95" x2="112.45" y1="263.5" y2="263.5" stroke="#43682B" stroke-width="0.8" stroke-opacity="0.6"/>
<text x="114.15" y="263.5" dominant-baseline="central" font-size="5.6" fill="#4a4a4a">d12</text>
<line x1="129.7" x2="141.2" y1="263.5" y2="263.5" stroke="#698ED0" stroke-width="0.8" stroke-opacity="0.6"/>
<text x="142.9" y="263.5" dominant-baseline="central" font-size="5.6" fill="#4a4a4a">d13</text>
<line x1="158.45" x2="169.95" y1="263.5" y2="263.5" stroke="#F1975A" stroke-width="0.8" stroke-opacity="0.6"/>
<text x="171.65" y="263.5" dominant-baseline="central" font-size="5.6" fill="#4a4a4a">d14</text>
<line x1="187.2" x2="198.7" y1="263.5" y2="263.5" stroke="#B7B7B7" stroke-width="0.8" stroke-opacity="0.6"/>
<text x="200.4" y="263.5" dominant-baseline="central" font-size="5.6" fill="#4a4a4a">d15</text>
<line x1="72.2" x2="83.7" y1="269.65" y2="269.65" stroke="#FFCD33" stroke-width="0.8" stroke-opacity="0.6"/>
<text x="85.4" y="269.65" dominant-baseline="central" font-size="5.6" fill="#4a4a4a">d16</text>
<line x1="100.95" x2="112.45" y1="269.65" y2="269.65" stroke="#7CAFDD" stroke-width="0.8" stroke-opacity="0.6"/>
<text x="114.15" y="269.65" dominant-baseline="central" font-size="5.6" fill="#4a4a4a">d17</text>
<line x1="129.7" x2="141.2" y1="269.65" y2="269.65" stroke="#8CC168" stroke-width="0.8" stroke-opacity="0.6"/>
<text x="142.9" y="269.65" dominant-baseline="central" font-size="5.6" fill="#4a4a4a">d18</text>
<line x1="158.45" x2="169.95" y1="269.65" y2="269.65" stroke="#335AA1" stroke-width="0.8" stroke-opacity="0.6"/>
<text x="171.65" y="269.65" dominant-baseline="central" font-size="5.6" fill="#4a4a4a">d19</text>
<line x1="187.2" x2="198.7" y1="269.65" y2="269.65" stroke="#D26012" stroke-width="0.8" stroke-opacity="0.6"/>
<text x="200.4" y="269.65" dominant-baseline="central" font-size="5.6" fill="#4a4a4a">d20</text>
<line x1="72.2" x2="83.7" y1="275.8" y2="275.8" stroke="#848484" stroke-width="0.8" stroke-opacity="0.6"/>
<text x="85.4" y="275.8" dominant-baseline="central" font-size="5.6" fill="#4a4a4a">d21</text>
<line x1="100.95" x2="112.45" y1="275.8" y2="275.8" stroke="#CC9A00" stroke-width="0.8" stroke-opacity="0.6"/>
<text x="114.15" y="275.8" dominant-baseline="central" font-size="5.6" fill="#4a4a4a">d22</text>
<line x1="129.7" x2="141.2" y1="275.8" y2="275.8" stroke="#3C7DC4" stroke-width="0.8" stroke-opacity="0.6"/>
<text x="142.9" y="275.8" dominant-baseline="central" font-size="5.6" fill="#4a4a4a">d23</text>
<line x1="158.45" x2="169.95" y1="275.8" y2="275.8" stroke="#5A8A39" stroke-width="0.8" stroke-opacity="0.6"/>
<text x="171.65" y="275.8" dominant-baseline="central" font-size="5.6" fill="#4a4a4a">d24</text>
<line x1="187.2" x2="198.7" y1="275.8" y2="275.8" stroke="#8FAADC" stroke-width="0.8" stroke-opacity="0.6"/>
<text x="200.4" y="275.8" dominant-baseline="central" font-size="5.6" fill="#4a4a4a">d25</text>
<text x="139.5" y="294.6" text-anchor="middle" dominant-baseline="central" font-family="&quot;Liberation Serif&quot;, serif" font-weight="bold" font-size="11.5" fill="#000">(d)</text>
<rect x="319.6" y="154.5" width="181.8" height="127.8" fill="#fff" stroke="#D9D9D9" stroke-width="0.8"/>
<line x1="340.6" x2="495.3" y1="234.3" y2="234.3" stroke="#8FAADC" stroke-width="0.8"/>
<polyline points="341.37,205.4 342.92,205.41 344.47,205.47 346.01,205.48 347.56,205.45 349.11,205.49 350.66,205.42 352.2,205.41 353.75,205.4 355.3,205.45 356.84,205.5 358.39,205.44 359.94,205.44 361.48,205.45 363.03,205.44 364.58,205.42 366.13,205.44 367.67,205.41 369.22,205.46 370.77,205.41 372.31,205.4 373.86,205.44 375.41,205.44 376.95,205.4 378.5,205.44 380.05,205.42 381.6,205.39 383.14,205.36 384.69,205.42 386.24,205.4 387.78,205.41 389.33,205.39 390.88,205.46 392.42,205.46 393.97,205.46 395.52,205.42 397.07,205.44 398.61,205.49 400.16,205.5 401.71,205.44 403.25,205.4 404.8,205.41 406.35,205.47 407.89,205.43 409.44,205.4 410.99,205.44 412.54,205.44 414.08,205.47 415.63,205.5 417.18,205.46 418.72,205.49 420.27,205.51 421.82,205.44 423.36,205.48 424.91,205.44 426.46,205.41 428.01,205.45 429.55,205.46 431.1,205.48 432.65,205.45 434.19,205.4 435.74,205.39 437.29,205.41 438.83,205.42 440.38,205.44 441.93,205.42 443.48,205.45 445.02,205.48 446.57,205.44 448.12,205.47 449.66,205.41 451.21,205.4 452.76,205.45 454.3,205.5 455.85,205.47 457.4,205.49 458.95,205.47 460.49,205.45 462.04,205.42 463.59,205.44 465.13,205.44 466.68,205.41 468.23,205.46 469.77,205.47 471.32,205.43 472.87,205.45 474.42,205.4 475.96,205.46 477.51,205.5 479.06,205.49 480.6,205.48 482.15,205.48 483.7,205.49 485.24,205.48 486.79,205.42 488.34,205.39 489.89,205.4 491.43,205.44 492.98,205.43 494.53,205.47" fill="none" stroke="#4472C4" stroke-width="0.55" stroke-opacity="0.7" stroke-linejoin="round"/>
<polyline points="341.37,222.29 342.92,201.2 344.47,186.73 346.01,201.16 347.56,215.82 349.11,180.06 350.66,180.91 352.2,224.68 353.75,200.44 355.3,200.28 356.84,208.3 358.39,200.92 359.94,198.87 361.48,222.49 363.03,205.19 364.58,185.56 366.13,203.63 367.67,213.48 369.22,201 370.77,185.1 372.31,201.25 373.86,219.7 375.41,198.54 376.95,175.27 378.5,197.2 380.05,211.99 381.6,196.62 383.14,172.31 384.69,172.06 386.24,196.42 387.78,225.31 389.33,199.41 390.88,200.21 392.42,227.96 393.97,217.25 395.52,197.07 397.07,187.63 398.61,198.02 400.16,218.78 401.71,227.3 403.25,210.65 404.8,189.12 406.35,208.04 407.89,224.22 409.44,191.15 410.99,190.29 412.54,226.43 414.08,215.33 415.63,192.6 417.18,177.38 418.72,190.08 420.27,212.38 421.82,222.35 423.36,196.14 424.91,175.78 426.46,197.16 428.01,213.86 429.55,204.78 431.1,204.7 432.65,208.88 434.19,184.17 435.74,181.42 437.29,217.09 438.83,210.63 440.38,199.09 441.93,198.73 443.48,211.12 445.02,221.62 446.57,202.19 448.12,180.51 449.66,177.96 451.21,201.18 452.76,216.18 454.3,202.16 455.85,176.62 457.4,175.35 458.95,201.67 460.49,223.16 462.04,200.22 463.59,174.84 465.13,203.1 466.68,219.01 468.23,198.56 469.77,177.89 471.32,196.28 472.87,225.82 474.42,218.98 475.96,200.02 477.51,190.87 479.06,199.52 480.6,217.35 482.15,214.32 483.7,206.31 485.24,197.72 486.79,203.53 488.34,212.69 489.89,197.92 491.43,173.48 492.98,174.16 494.53,194.5" fill="none" stroke="#6a96c8" stroke-width="0.6" stroke-opacity="0.9" stroke-linejoin="round"/>
<polyline points="341.37,222.7 342.92,217.79 344.47,207.13 346.01,207.89 347.56,217.4 349.11,231.42 350.66,225.83 352.2,214.6 353.75,213.57 355.3,224.68 356.84,231.38 358.39,226.67 359.94,220.65 361.48,215.83 363.03,219.76 364.58,226.65 366.13,223.32 367.67,218.32 369.22,207.95 370.77,205.12 372.31,209.81 373.86,218.03 375.41,226.55 376.95,213.41 378.5,203.88 380.05,215.37 381.6,229.88 383.14,220.34 384.69,206.1 386.24,204.8 387.78,220.02 389.33,232.19 390.88,228.55 392.42,218.88 393.97,214.53 395.52,219.24 397.07,227.14 398.61,225.9 400.16,220.73 401.71,214.66 403.25,212.56 404.8,214.13 406.35,222.67 407.89,222.67 409.44,218.68 410.99,218.13 412.54,224.11 414.08,220.39 415.63,217.85 417.18,216.43 418.72,221.59 420.27,224.06 421.82,222.12 423.36,214.76 424.91,210.27 426.46,216.09 428.01,220.4 429.55,228.35 431.1,219.46 432.65,209.25 434.19,220.64 435.74,225.73 437.29,220.47 438.83,209.64 440.38,205.56 441.93,208.26 443.48,220.06 445.02,224.48 446.57,222.11 448.12,217.14 449.66,215.46 451.21,217.1 452.76,222.82 454.3,220.67 455.85,217.91 457.4,208.31 458.95,202.59 460.49,208.37 462.04,218.05 463.59,226.04 465.13,222.24 466.68,213.69 468.23,215.85 469.77,220.56 471.32,230.04 472.87,221.37 474.42,209.9 475.96,209.14 477.51,222.02 479.06,225.86 480.6,214.88 482.15,204.66 483.7,215.48 485.24,228.28 486.79,220.51 488.34,208.35 489.89,208.5 491.43,221.43 492.98,227.51 494.53,216.83" fill="none" stroke="#86a868" stroke-width="0.55" stroke-opacity="0.85" stroke-linejoin="round"/>
<polyline points="341.37,170.21 342.92,170.24 344.47,170.3 346.01,170.19 347.56,170.29 349.11,170.26 350.66,170.16 352.2,170.26 353.75,170.23 355.3,170.19 356.84,170.29 358.39,170.28 359.94,170.21 361.48,170.22 363.03,170.17 364.58,170.25 366.13,170.29 367.67,170.33 369.22,170.28 370.77,170.16 372.31,170.16 373.86,170.12 375.41,170.18 376.95,170.14 378.5,170.25 380.05,170.27 381.6,170.21 383.14,170.16 384.69,170.2 386.24,170.28 387.78,170.3 389.33,170.32 390.88,170.32 392.42,170.21 393.97,170.27 395.52,170.17 397.07,170.1 398.61,170.24 400.16,170.25 401.71,170.23 403.25,170.32 404.8,170.29 406.35,170.17 407.89,170.26 409.44,170.22 410.99,170.29 412.54,170.24 414.08,170.15 415.63,170.23 417.18,170.32 418.72,170.36 420.27,170.29 421.82,170.35 423.36,170.38 424.91,170.31 426.46,170.18 428.01,170.21 429.55,170.23 431.1,170.19 432.65,170.28 434.19,170.23 435.74,170.29 437.29,170.23 438.83,170.13 440.38,170.25 441.93,170.22 443.48,170.19 445.02,170.27 446.57,170.29 448.12,170.16 449.66,170.07 451.21,170.2 452.76,170.16 454.3,170.09 455.85,170.19 457.4,170.17 458.95,170.28 460.49,170.28 462.04,170.21 463.59,170.19 465.13,170.14 466.68,170.25 468.23,170.26 469.77,170.17 471.32,170.16 472.87,170.19 474.42,170.22 475.96,170.11 477.51,170.13 479.06,170.26 480.6,170.18 482.15,170.22 483.7,170.23 485.24,170.28 486.79,170.26 488.34,170.27 489.89,170.33 491.43,170.25 492.98,170.32 494.53,170.21" fill="none" stroke="#3f5f8f" stroke-width="0.9" stroke-opacity="0.9" stroke-linejoin="round"/>
<polyline points="341.37,172.09 342.92,171.99 344.47,171.93 346.01,171.96 347.56,171.93 349.11,172.01 350.66,171.95 352.2,171.98 353.75,172.04 355.3,171.93 356.84,171.97 358.39,172.01 359.94,171.93 361.48,171.98 363.03,171.95 364.58,172.04 366.13,171.95 367.67,172.02 369.22,172.1 370.77,171.96 372.31,172.04 373.86,171.93 375.41,171.86 376.95,171.89 378.5,172.03 380.05,172.1 381.6,172.12 383.14,172.09 384.69,172.03 386.24,171.92 387.78,171.98 389.33,172.06 390.88,172.02 392.42,172.08 393.97,172.13 395.52,172.06 397.07,172 398.61,172.08 400.16,172.06 401.71,171.99 403.25,171.94 404.8,171.98 406.35,171.91 407.89,172.01 409.44,171.96 410.99,171.92 412.54,171.87 414.08,171.92 415.63,172.03 417.18,172.11 418.72,172.06 420.27,172.1 421.82,172.03 423.36,172.1 424.91,172 426.46,172.05 428.01,172.13 429.55,172.14 431.1,172.09 432.65,172.04 434.19,172.04 435.74,172.09 437.29,172.05 438.83,171.94 440.38,171.95 441.93,171.88 443.48,172.02 445.02,171.91 446.57,171.86 448.12,171.91 449.66,171.94 451.21,171.95 452.76,171.88 454.3,172.02 455.85,171.98 457.4,171.98 458.95,172.02 460.49,171.97 462.04,171.93 463.59,172.04 465.13,171.98 466.68,171.99 468.23,172 469.77,171.97 471.32,172.07 472.87,172.02 474.42,172.03 475.96,171.94 477.51,172.02 479.06,171.94 480.6,171.91 482.15,171.92 483.7,171.87 485.24,172.02 486.79,171.99 488.34,171.97 489.89,171.94 491.43,171.98 492.98,172.07 494.53,172.1" fill="none" stroke="#B7B7B7" stroke-width="0.7" stroke-opacity="0.9" stroke-linejoin="round"/>
<text x="335.6" y="234.3" text-anchor="end" dominant-baseline="central" font-size="4.6" fill="#4a4a4a" class="t">0</text>
<text x="335.6" y="224.09" text-anchor="end" dominant-baseline="central" font-size="4.6" fill="#4a4a4a" class="t">20</text>
<text x="335.6" y="213.87" text-anchor="end" dominant-baseline="central" font-size="4.6" fill="#4a4a4a" class="t">40</text>
<text x="335.6" y="203.66" text-anchor="end" dominant-baseline="central" font-size="4.6" fill="#4a4a4a" class="t">60</text>
<text x="335.6" y="193.44" text-anchor="end" dominant-baseline="central" font-size="4.6" fill="#4a4a4a" class="t">80</text>
<text x="335.6" y="183.23" text-anchor="end" dominant-baseline="central" font-size="4.6" fill="#4a4a4a" class="t">100</text>
<text x="335.6" y="173.01" text-anchor="end" dominant-baseline="central" font-size="4.6" fill="#4a4a4a" class="t">120</text>
<text x="335.6" y="162.8" text-anchor="end" dominant-baseline="central" font-size="4.6" fill="#4a4a4a" class="t">140</text>
<text transform="translate(324.05,176.2) rotate(-90)" text-anchor="middle" dominant-baseline="central" font-size="5.7" fill="#4a4a4a" class="t">pressure/N</text>
<text transform="translate(341.37,238.3) rotate(-90)" text-anchor="end" dominant-baseline="central" font-size="5.3" fill="#4a4a4a">1</text>
<text transform="translate(349.11,238.3) rotate(-90)" text-anchor="end" dominant-baseline="central" font-size="5.3" fill="#4a4a4a">6</text>
<text transform="translate(356.84,238.3) rotate(-90)" text-anchor="end" dominant-baseline="central" font-size="5.3" fill="#4a4a4a">11</text>
<text transform="translate(364.58,238.3) rotate(-90)" text-anchor="end" dominant-baseline="central" font-size="5.3" fill="#4a4a4a">16</text>
<text transform="translate(372.31,238.3) rotate(-90)" text-anchor="end" dominant-baseline="central" font-size="5.3" fill="#4a4a4a">21</text>
<text transform="translate(380.05,238.3) rotate(-90)" text-anchor="end" dominant-baseline="central" font-size="5.3" fill="#4a4a4a">26</text>
<text transform="translate(387.78,238.3) rotate(-90)" text-anchor="end" dominant-baseline="central" font-size="5.3" fill="#4a4a4a">31</text>
<text transform="translate(395.52,238.3) rotate(-90)" text-anchor="end" dominant-baseline="central" font-size="5.3" fill="#4a4a4a">36</text>
<text transform="translate(403.25,238.3) rotate(-90)" text-anchor="end" dominant-baseline="central" font-size="5.3" fill="#4a4a4a">41</text>
<text transform="translate(410.99,238.3) rotate(-90)" text-anchor="end" dominant-baseline="central" font-size="5.3" fill="#4a4a4a">46</text>
<text transform="translate(418.72,238.3) rotate(-90)" text-anchor="end" dominant-baseline="central" font-size="5.3" fill="#4a4a4a">51</text>
<text transform="translate(426.46,238.3) rotate(-90)" text-anchor="end" dominant-baseline="central" font-size="5.3" fill="#4a4a4a">56</text>
<text transform="translate(434.19,238.3) rotate(-90)" text-anchor="end" dominant-baseline="central" font-size="5.3" fill="#4a4a4a">61</text>
<text transform="translate(441.93,238.3) rotate(-90)" text-anchor="end" dominant-baseline="central" font-size="5.3" fill="#4a4a4a">66</text>
<text transform="translate(449.66,238.3) rotate(-90)" text-anchor="end" dominant-baseline="central" font-size="5.3" fill="#4a4a4a">71</text>
<text transform="translate(457.4,238.3) rotate(-90)" text-anchor="end" dominant-baseline="central" font-size="5.3" fill="#4a4a4a">76</text>
<text transform="translate(465.13,238.3) rotate(-90)" text-anchor="end" dominant-baseline="central" font-size="5.3" fill="#4a4a4a">81</text>
<text transform="translate(472.87,238.3) rotate(-90)" text-anchor="end" dominant-baseline="central" font-size="5.3" fill="#4a4a4a">86</text>
<text transform="translate(480.6,238.3) rotate(-90)" text-anchor="end" dominant-baseline="central" font-size="5.3" fill="#4a4a4a">91</text>
<text transform="translate(488.34,238.3) rotate(-90)" text-anchor="end" dominant-baseline="central" font-size="5.3" fill="#4a4a4a">96</text>
<text x="479.4" y="248.2" dominant-baseline="central" font-size="6.3" fill="#4a4a4a" class="t">time/ms</text>
<line x1="345.4" x2="356.9" y1="251.4" y2="251.4" stroke="#4472C4" stroke-width="0.8" stroke-opacity="0.6"/>
<text x="358.6" y="251.4" dominant-baseline="central" font-size="5.6" fill="#4a4a4a">e1</text>
<line x1="373.9" x2="385.4" y1="251.4" y2="251.4" stroke="#ED7D31" stroke-width="0.8" stroke-opacity="0.6"/>
<text x="387.1" y="251.4" dominant-baseline="central" font-size="5.6" fill="#4a4a4a">e2</text>
<line x1="402.4" x2="413.9" y1="251.4" y2="251.4" stroke="#A5A5A5" stroke-width="0.8" stroke-opacity="0.6"/>
<text x="415.6" y="251.4" dominant-baseline="central" font-size="5.6" fill="#4a4a4a">e3</text>
<line x1="430.9" x2="442.4" y1="251.4" y2="251.4" stroke="#FFC000" stroke-width="0.8" stroke-opacity="0.6"/>
<text x="444.1" y="251.4" dominant-baseline="central" font-size="5.6" fill="#4a4a4a">e4</text>
<line x1="459.4" x2="470.9" y1="251.4" y2="251.4" stroke="#5B9BD5" stroke-width="0.8" stroke-opacity="0.6"/>
<text x="472.6" y="251.4" dominant-baseline="central" font-size="5.6" fill="#4a4a4a">e5</text>
<line x1="345.4" x2="356.9" y1="257.6" y2="257.6" stroke="#70AD47" stroke-width="0.8" stroke-opacity="0.6"/>
<text x="358.6" y="257.6" dominant-baseline="central" font-size="5.6" fill="#4a4a4a">e6</text>
<line x1="373.9" x2="385.4" y1="257.6" y2="257.6" stroke="#264478" stroke-width="0.8" stroke-opacity="0.6"/>
<text x="387.1" y="257.6" dominant-baseline="central" font-size="5.6" fill="#4a4a4a">e7</text>
<line x1="402.4" x2="413.9" y1="257.6" y2="257.6" stroke="#9E480E" stroke-width="0.8" stroke-opacity="0.6"/>
<text x="415.6" y="257.6" dominant-baseline="central" font-size="5.6" fill="#4a4a4a">e8</text>
<line x1="430.9" x2="442.4" y1="257.6" y2="257.6" stroke="#636363" stroke-width="0.8" stroke-opacity="0.6"/>
<text x="444.1" y="257.6" dominant-baseline="central" font-size="5.6" fill="#4a4a4a">e9</text>
<line x1="459.4" x2="470.9" y1="257.6" y2="257.6" stroke="#997300" stroke-width="0.8" stroke-opacity="0.6"/>
<text x="472.6" y="257.6" dominant-baseline="central" font-size="5.6" fill="#4a4a4a">e10</text>
<line x1="345.4" x2="356.9" y1="263.8" y2="263.8" stroke="#255E91" stroke-width="0.8" stroke-opacity="0.6"/>
<text x="358.6" y="263.8" dominant-baseline="central" font-size="5.6" fill="#4a4a4a">e11</text>
<line x1="373.9" x2="385.4" y1="263.8" y2="263.8" stroke="#43682B" stroke-width="0.8" stroke-opacity="0.6"/>
<text x="387.1" y="263.8" dominant-baseline="central" font-size="5.6" fill="#4a4a4a">e12</text>
<line x1="402.4" x2="413.9" y1="263.8" y2="263.8" stroke="#698ED0" stroke-width="0.8" stroke-opacity="0.6"/>
<text x="415.6" y="263.8" dominant-baseline="central" font-size="5.6" fill="#4a4a4a">e13</text>
<line x1="430.9" x2="442.4" y1="263.8" y2="263.8" stroke="#F1975A" stroke-width="0.8" stroke-opacity="0.6"/>
<text x="444.1" y="263.8" dominant-baseline="central" font-size="5.6" fill="#4a4a4a">e14</text>
<line x1="459.4" x2="470.9" y1="263.8" y2="263.8" stroke="#B7B7B7" stroke-width="0.8" stroke-opacity="0.6"/>
<text x="472.6" y="263.8" dominant-baseline="central" font-size="5.6" fill="#4a4a4a">e15</text>
<line x1="345.4" x2="356.9" y1="270" y2="270" stroke="#FFCD33" stroke-width="0.8" stroke-opacity="0.6"/>
<text x="358.6" y="270" dominant-baseline="central" font-size="5.6" fill="#4a4a4a">e16</text>
<line x1="373.9" x2="385.4" y1="270" y2="270" stroke="#7CAFDD" stroke-width="0.8" stroke-opacity="0.6"/>
<text x="387.1" y="270" dominant-baseline="central" font-size="5.6" fill="#4a4a4a">e17</text>
<line x1="402.4" x2="413.9" y1="270" y2="270" stroke="#8CC168" stroke-width="0.8" stroke-opacity="0.6"/>
<text x="415.6" y="270" dominant-baseline="central" font-size="5.6" fill="#4a4a4a">e18</text>
<line x1="430.9" x2="442.4" y1="270" y2="270" stroke="#335AA1" stroke-width="0.8" stroke-opacity="0.6"/>
<text x="444.1" y="270" dominant-baseline="central" font-size="5.6" fill="#4a4a4a">e19</text>
<line x1="459.4" x2="470.9" y1="270" y2="270" stroke="#D26012" stroke-width="0.8" stroke-opacity="0.6"/>
<text x="472.6" y="270" dominant-baseline="central" font-size="5.6" fill="#4a4a4a">e20</text>
<line x1="345.4" x2="356.9" y1="276.2" y2="276.2" stroke="#848484" stroke-width="0.8" stroke-opacity="0.6"/>
<text x="358.6" y="276.2" dominant-baseline="central" font-size="5.6" fill="#4a4a4a">e21</text>
<line x1="373.9" x2="385.4" y1="276.2" y2="276.2" stroke="#CC9A00" stroke-width="0.8" stroke-opacity="0.6"/>
<text x="387.1" y="276.2" dominant-baseline="central" font-size="5.6" fill="#4a4a4a">e22</text>
<line x1="402.4" x2="413.9" y1="276.2" y2="276.2" stroke="#3C7DC4" stroke-width="0.8" stroke-opacity="0.6"/>
<text x="415.6" y="276.2" dominant-baseline="central" font-size="5.6" fill="#4a4a4a">e23</text>
<line x1="430.9" x2="442.4" y1="276.2" y2="276.2" stroke="#5A8A39" stroke-width="0.8" stroke-opacity="0.6"/>
<text x="444.1" y="276.2" dominant-baseline="central" font-size="5.6" fill="#4a4a4a">e24</text>
<line x1="459.4" x2="470.9" y1="276.2" y2="276.2" stroke="#8FAADC" stroke-width="0.8" stroke-opacity="0.6"/>
<text x="472.6" y="276.2" dominant-baseline="central" font-size="5.6" fill="#4a4a4a">e25</text>
<text x="410.5" y="294.6" text-anchor="middle" dominant-baseline="central" font-family="&quot;Liberation Serif&quot;, serif" font-weight="bold" font-size="11.5" fill="#000">(e)</text>
</g>
</svg>
</body></html>
